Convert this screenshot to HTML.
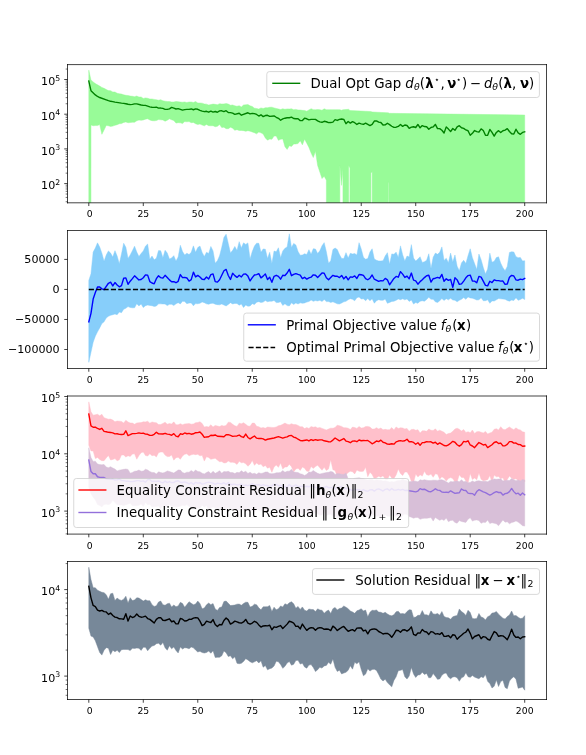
<!DOCTYPE html>
<html><head><meta charset="utf-8"><title>figure</title>
<style>html,body{margin:0;padding:0;background:#fff;}svg{display:block;}</style>
</head><body>
<svg  width="586" height="755" viewBox="0 0 633.513514 816.216216" version="1.1">
 
 <defs>
  <style type="text/css">*{stroke-linejoin: round; stroke-linecap: butt}</style>
 </defs>
 <g id="figure_1">
  <g id="patch_1">
   <path d="M 0 816.216216 
L 633.513514 816.216216 
L 633.513514 0 
L 0 0 
z
" style="fill: #ffffff"/>
  </g>
  <g id="axes_1">
   <g id="patch_2">
    <path d="M 72.972973 219.243243 
L 590.810811 219.243243 
L 590.810811 69.837838 
L 72.972973 69.837838 
z
" style="fill: #ffffff"/>
   </g>
   <g id="FillBetweenPolyCollection_1">
    
    <g clip-path="url(#pb293c02546)">
     <path d="M 96.000502 -740.323684 L 96.000502 -355.134063 L 98.309617 -355.134063 L 98.356742 -681.127227 L 100.712981 -680.301265 L 103.069221 -680.484827 L 105.42546 -680.4465 L 107.7817 -681.538706 L 110.13794 -671.021499 L 112.494179 -675.7287 L 114.850419 -680.640894 L 117.206658 -680.227915 L 119.562898 -679.556354 L 121.919137 -679.874234 L 124.275377 -680.760191 L 126.631617 -681.403832 L 128.987856 -682.419266 L 131.344096 -682.624063 L 133.700335 -683.852256 L 136.056575 -684.42058 L 138.412814 -683.480896 L 140.769054 -683.741295 L 143.125294 -684.009313 L 145.481533 -684.037849 L 147.837773 -685.623894 L 150.194012 -686.376995 L 152.550252 -686.159158 L 154.906491 -686.549961 L 157.262731 -687.382656 L 159.61897 -687.813809 L 161.97521 -686.505007 L 164.33145 -685.796497 L 166.687689 -685.6309 L 169.043929 -685.86842 L 171.400168 -686.956439 L 173.756408 -686.658346 L 176.112647 -686.48464 L 178.468887 -685.172505 L 180.825127 -686.27037 L 183.181366 -687.713203 L 185.537606 -686.77054 L 187.893845 -685.861228 L 190.250085 -683.162949 L 192.606324 -683.60647 L 194.962564 -683.41637 L 197.318804 -682.603467 L 199.675043 -684.734739 L 202.031283 -684.533388 L 204.387522 -684.7461 L 206.743762 -683.565243 L 209.100001 -683.894851 L 211.456241 -682.44787 L 213.81248 -681.535748 L 216.16872 -682.109746 L 218.52496 -681.045884 L 220.881199 -680.15433 L 223.237439 -681.748349 L 225.593678 -680.33347 L 227.949918 -680.209545 L 230.306157 -680.38511 L 232.662397 -679.251599 L 235.018637 -679.644355 L 237.374876 -681.554568 L 239.731116 -678.325645 L 242.087355 -678.777313 L 244.443595 -677.144857 L 246.799834 -677.067821 L 249.156074 -678.753699 L 251.512314 -677.511463 L 253.868553 -675.38487 L 256.224793 -676.066728 L 258.581032 -675.119 L 260.937272 -675.153661 L 263.293511 -674.987644 L 265.649751 -674.23428 L 268.00599 -674.907439 L 270.36223 -674.457862 L 272.71847 -673.547555 L 275.074709 -672.743189 L 277.430949 -671.524384 L 279.787188 -673.458671 L 282.143428 -672.634486 L 284.499667 -671.307764 L 286.855907 -667.116247 L 289.212147 -664.66867 L 291.568386 -665.89143 L 293.924626 -665.686336 L 296.280865 -669.148366 L 298.637105 -669.152322 L 300.993344 -664.522375 L 303.349584 -665.674108 L 305.705823 -666.048041 L 308.062063 -657.615785 L 310.418303 -654.665989 L 312.774542 -658.689203 L 315.130782 -657.929664 L 317.487021 -660.529994 L 319.843261 -660.598643 L 322.1995 -660.987717 L 324.55574 -664.181369 L 326.91198 -659.609136 L 329.268219 -665.739136 L 331.624459 -661.425457 L 333.980698 -656.866742 L 336.336938 -650.799603 L 338.693177 -645.89138 L 341.049417 -652.633215 L 343.405657 -637.235258 L 345.761896 -630.306275 L 348.118136 -623.130967 L 350.474375 -625.624029 L 352.830615 -621.480606 L 352.948427 -355.134063 L 367.321488 -355.134063 L 367.4393 -637.236317 L 369.20648 -615.853567 L 370.738035 -633.484958 L 370.855847 -355.134063 L 376.864258 -355.134063 L 376.98207 -637.236317 L 378.278002 -634.610366 L 378.395814 -355.134063 L 400.897902 -355.134063 L 401.015714 -628.983326 L 402.311646 -630.859006 L 402.429458 -355.134063 L 419.86563 -355.134063 L 419.983442 -619.604926 L 420.572502 -617.729247 L 420.690314 -355.134063 L 567.248415 -355.134063 L 567.248415 -691.874041 L 567.248415 -691.874041 L 420.690314 -693.692745 L 420.572502 -693.768916 L 419.983442 -694.149771 L 419.86563 -694.225942 L 402.429458 -695.181028 L 402.311646 -695.105728 L 401.015714 -695.609026 L 400.897902 -695.654781 L 378.395814 -696.740231 L 378.278002 -696.840742 L 376.98207 -697.946363 L 376.864258 -698.046874 L 370.855847 -697.564447 L 370.738035 -697.517167 L 369.20648 -696.991247 L 367.4393 -697.612984 L 367.321488 -697.654433 L 352.948427 -697.627121 L 352.830615 -697.640097 L 350.474375 -698.567446 L 348.118136 -696.998356 L 345.761896 -697.698182 L 343.405657 -697.796597 L 341.049417 -697.495336 L 338.693177 -697.698698 L 336.336938 -698.753681 L 333.980698 -697.378044 L 331.624459 -696.027225 L 329.268219 -696.793096 L 326.91198 -696.906053 L 324.55574 -697.238322 L 322.1995 -697.329595 L 319.843261 -697.967245 L 317.487021 -697.603594 L 315.130782 -698.515244 L 312.774542 -698.391539 L 310.418303 -698.446439 L 308.062063 -697.999362 L 305.705823 -698.616427 L 303.349584 -697.770256 L 300.993344 -698.449362 L 298.637105 -698.950595 L 296.280865 -699.584165 L 293.924626 -700.367183 L 291.568386 -700.224671 L 289.212147 -699.718267 L 286.855907 -699.824369 L 284.499667 -698.895643 L 282.143428 -699.58762 L 279.787188 -698.244007 L 277.430949 -698.87502 L 275.074709 -699.31793 L 272.71847 -701.140674 L 270.36223 -701.767975 L 268.00599 -703.255024 L 265.649751 -702.848603 L 263.293511 -702.692655 L 260.937272 -700.613056 L 258.581032 -701.973196 L 256.224793 -701.320374 L 253.868553 -701.782202 L 251.512314 -702.728103 L 249.156074 -702.476041 L 246.799834 -703.67509 L 244.443595 -704.2671 L 242.087355 -703.891631 L 239.731116 -703.810401 L 237.374876 -704.151755 L 235.018637 -702.9821 L 232.662397 -703.410803 L 230.306157 -703.722332 L 227.949918 -703.158571 L 225.593678 -702.676494 L 223.237439 -703.632214 L 220.881199 -703.825956 L 218.52496 -704.701493 L 216.16872 -704.895437 L 213.81248 -704.869694 L 211.456241 -706.426444 L 209.100001 -705.433801 L 206.743762 -705.951709 L 204.387522 -705.934325 L 202.031283 -705.414917 L 199.675043 -706.002259 L 197.318804 -705.754995 L 194.962564 -705.950432 L 192.606324 -706.334495 L 190.250085 -706.523871 L 187.893845 -706.005541 L 185.537606 -705.944973 L 183.181366 -706.373845 L 180.825127 -706.493368 L 178.468887 -706.81641 L 176.112647 -707.299422 L 173.756408 -708.418086 L 171.400168 -707.891966 L 169.043929 -708.34218 L 166.687689 -708.778996 L 164.33145 -709.212511 L 161.97521 -709.185812 L 159.61897 -709.995406 L 157.262731 -710.384029 L 154.906491 -709.734511 L 152.550252 -711.418514 L 150.194012 -711.294717 L 147.837773 -712.332272 L 145.481533 -711.750887 L 143.125294 -712.107473 L 140.769054 -712.333629 L 138.412814 -712.956193 L 136.056575 -713.185849 L 133.700335 -713.687824 L 131.344096 -714.563258 L 128.987856 -714.874664 L 126.631617 -715.395627 L 124.275377 -716.770134 L 121.919137 -716.823359 L 119.562898 -718.148038 L 117.206658 -718.280092 L 114.850419 -719.457665 L 112.494179 -720.720739 L 110.13794 -721.709285 L 107.7817 -723.1593 L 105.42546 -724.471373 L 103.069221 -725.837994 L 100.712981 -727.701961 L 98.356742 -729.648861 L 98.309617 -729.862357 L 96.000502 -740.323684 z" transform="translate(0 816.216216)" style="fill: #98fb98; stroke: #98fb98; stroke-width: 0.5"/>
    </g>
   </g>
   <g id="matplotlib.axis_1">
    <g id="xtick_1">
     <g id="line2d_1">
      
      <g>
       <path d="M 0 0 L 0 3.5" transform="translate(96.000502 219.243243)" style="stroke: #000000; stroke-width: 0.8"/>
      </g>
     </g>
     <g id="text_1">
      <text style="font-size: 10px; font-family: 'DejaVu Sans', sans-serif; text-anchor: middle" x="96.920502" y="235.141681" transform="rotate(-0 96.920502 235.141681)">0</text>
     </g>
    </g>
    <g id="xtick_2">
     <g id="line2d_2">
      <g>
       <path d="M 0 0 L 0 3.5" transform="translate(154.906491 219.243243)" style="stroke: #000000; stroke-width: 0.8"/>
      </g>
     </g>
     <g id="text_2">
      <text style="font-size: 10px; font-family: 'DejaVu Sans', sans-serif; text-anchor: middle" x="154.906491" y="235.141681" transform="rotate(-0 154.906491 235.141681)">25</text>
     </g>
    </g>
    <g id="xtick_3">
     <g id="line2d_3">
      <g>
       <path d="M 0 0 L 0 3.5" transform="translate(213.81248 219.243243)" style="stroke: #000000; stroke-width: 0.8"/>
      </g>
     </g>
     <g id="text_3">
      <text style="font-size: 10px; font-family: 'DejaVu Sans', sans-serif; text-anchor: middle" x="213.81248" y="235.141681" transform="rotate(-0 213.81248 235.141681)">50</text>
     </g>
    </g>
    <g id="xtick_4">
     <g id="line2d_4">
      <g>
       <path d="M 0 0 L 0 3.5" transform="translate(272.71847 219.243243)" style="stroke: #000000; stroke-width: 0.8"/>
      </g>
     </g>
     <g id="text_4">
      <text style="font-size: 10px; font-family: 'DejaVu Sans', sans-serif; text-anchor: middle" x="272.71847" y="235.141681" transform="rotate(-0 272.71847 235.141681)">75</text>
     </g>
    </g>
    <g id="xtick_5">
     <g id="line2d_5">
      <g>
       <path d="M 0 0 L 0 3.5" transform="translate(331.624459 219.243243)" style="stroke: #000000; stroke-width: 0.8"/>
      </g>
     </g>
     <g id="text_5">
      <text style="font-size: 10px; font-family: 'DejaVu Sans', sans-serif; text-anchor: middle" x="331.624459" y="235.141681" transform="rotate(-0 331.624459 235.141681)">100</text>
     </g>
    </g>
    <g id="xtick_6">
     <g id="line2d_6">
      <g>
       <path d="M 0 0 L 0 3.5" transform="translate(390.530448 219.243243)" style="stroke: #000000; stroke-width: 0.8"/>
      </g>
     </g>
     <g id="text_6">
      <text style="font-size: 10px; font-family: 'DejaVu Sans', sans-serif; text-anchor: middle" x="390.530448" y="235.141681" transform="rotate(-0 390.530448 235.141681)">125</text>
     </g>
    </g>
    <g id="xtick_7">
     <g id="line2d_7">
      <g>
       <path d="M 0 0 L 0 3.5" transform="translate(449.436437 219.243243)" style="stroke: #000000; stroke-width: 0.8"/>
      </g>
     </g>
     <g id="text_7">
      <text style="font-size: 10px; font-family: 'DejaVu Sans', sans-serif; text-anchor: middle" x="449.436437" y="235.141681" transform="rotate(-0 449.436437 235.141681)">150</text>
     </g>
    </g>
    <g id="xtick_8">
     <g id="line2d_8">
      <g>
       <path d="M 0 0 L 0 3.5" transform="translate(508.342426 219.243243)" style="stroke: #000000; stroke-width: 0.8"/>
      </g>
     </g>
     <g id="text_8">
      <text style="font-size: 10px; font-family: 'DejaVu Sans', sans-serif; text-anchor: middle" x="508.342426" y="235.141681" transform="rotate(-0 508.342426 235.141681)">175</text>
     </g>
    </g>
    <g id="xtick_9">
     <g id="line2d_9">
      <g>
       <path d="M 0 0 L 0 3.5" transform="translate(567.248415 219.243243)" style="stroke: #000000; stroke-width: 0.8"/>
      </g>
     </g>
     <g id="text_9">
      <text style="font-size: 10px; font-family: 'DejaVu Sans', sans-serif; text-anchor: middle" x="567.248415" y="235.141681" transform="rotate(-0 567.248415 235.141681)">200</text>
     </g>
    </g>
   </g>
   <g id="matplotlib.axis_2">
    <g id="ytick_1">
     <g id="line2d_10">
      
      <g>
       <path d="M 0 0 L -3.5 0" transform="translate(72.972973 198.48697)" style="stroke: #000000; stroke-width: 0.8"/>
      </g>
     </g>
     <g id="text_10">
      <!-- $\mathdefault{10^{2}}$ -->
      <g transform="translate(44.452973 204.746032)">
       <text>
        <tspan x="0" y="-0.171875" style="font-size: 12px; font-family: 'DejaVu Sans', sans-serif">1</tspan>
        <tspan x="7.634766" y="-0.171875" style="font-size: 12px; font-family: 'DejaVu Sans', sans-serif">0</tspan>
        <tspan x="15.384375" y="-4.765625" style="font-size: 8.4px; font-family: 'DejaVu Sans', sans-serif">2</tspan>
       </text>
      </g>
     </g>
    </g>
    <g id="ytick_2">
     <g id="line2d_11">
      <g>
       <path d="M 0 0 L -3.5 0" transform="translate(72.972973 160.973372)" style="stroke: #000000; stroke-width: 0.8"/>
      </g>
     </g>
     <g id="text_11">
      <!-- $\mathdefault{10^{3}}$ -->
      <g transform="translate(44.452973 167.232434)">
       <text>
        <tspan x="0" y="-0.171875" style="font-size: 12px; font-family: 'DejaVu Sans', sans-serif">1</tspan>
        <tspan x="7.634766" y="-0.171875" style="font-size: 12px; font-family: 'DejaVu Sans', sans-serif">0</tspan>
        <tspan x="15.384375" y="-4.765625" style="font-size: 8.4px; font-family: 'DejaVu Sans', sans-serif">3</tspan>
       </text>
      </g>
     </g>
    </g>
    <g id="ytick_3">
     <g id="line2d_12">
      <g>
       <path d="M 0 0 L -3.5 0" transform="translate(72.972973 123.459774)" style="stroke: #000000; stroke-width: 0.8"/>
      </g>
     </g>
     <g id="text_12">
      <!-- $\mathdefault{10^{4}}$ -->
      <g transform="translate(44.452973 129.718837)">
       <text>
        <tspan x="0" y="-0.28125" style="font-size: 12px; font-family: 'DejaVu Sans', sans-serif">1</tspan>
        <tspan x="7.634766" y="-0.28125" style="font-size: 12px; font-family: 'DejaVu Sans', sans-serif">0</tspan>
        <tspan x="15.384375" y="-4.875" style="font-size: 8.4px; font-family: 'DejaVu Sans', sans-serif">4</tspan>
       </text>
      </g>
     </g>
    </g>
    <g id="ytick_4">
     <g id="line2d_13">
      <g>
       <path d="M 0 0 L -3.5 0" transform="translate(72.972973 85.946177)" style="stroke: #000000; stroke-width: 0.8"/>
      </g>
     </g>
     <g id="text_13">
      <!-- $\mathdefault{10^{5}}$ -->
      <g transform="translate(44.452973 92.205239)">
       <text>
        <tspan x="0" y="-0.28125" style="font-size: 12px; font-family: 'DejaVu Sans', sans-serif">1</tspan>
        <tspan x="7.634766" y="-0.28125" style="font-size: 12px; font-family: 'DejaVu Sans', sans-serif">0</tspan>
        <tspan x="15.384375" y="-4.875" style="font-size: 8.4px; font-family: 'DejaVu Sans', sans-serif">5</tspan>
       </text>
      </g>
     </g>
    </g>
    <g id="ytick_5">
     <g id="line2d_14">
      
      <g>
       <path d="M 0 0 L -2 0" transform="translate(72.972973 218.102033)" style="stroke: #000000; stroke-width: 0.6"/>
      </g>
     </g>
    </g>
    <g id="ytick_6">
     <g id="line2d_15">
      <g>
       <path d="M 0 0 L -2 0" transform="translate(72.972973 213.415131)" style="stroke: #000000; stroke-width: 0.6"/>
      </g>
     </g>
    </g>
    <g id="ytick_7">
     <g id="line2d_16">
      <g>
       <path d="M 0 0 L -2 0" transform="translate(72.972973 209.779688)" style="stroke: #000000; stroke-width: 0.6"/>
      </g>
     </g>
    </g>
    <g id="ytick_8">
     <g id="line2d_17">
      <g>
       <path d="M 0 0 L -2 0" transform="translate(72.972973 206.809314)" style="stroke: #000000; stroke-width: 0.6"/>
      </g>
     </g>
    </g>
    <g id="ytick_9">
     <g id="line2d_18">
      <g>
       <path d="M 0 0 L -2 0" transform="translate(72.972973 204.297899)" style="stroke: #000000; stroke-width: 0.6"/>
      </g>
     </g>
    </g>
    <g id="ytick_10">
     <g id="line2d_19">
      <g>
       <path d="M 0 0 L -2 0" transform="translate(72.972973 202.122413)" style="stroke: #000000; stroke-width: 0.6"/>
      </g>
     </g>
    </g>
    <g id="ytick_11">
     <g id="line2d_20">
      <g>
       <path d="M 0 0 L -2 0" transform="translate(72.972973 200.203498)" style="stroke: #000000; stroke-width: 0.6"/>
      </g>
     </g>
    </g>
    <g id="ytick_12">
     <g id="line2d_21">
      <g>
       <path d="M 0 0 L -2 0" transform="translate(72.972973 187.194252)" style="stroke: #000000; stroke-width: 0.6"/>
      </g>
     </g>
    </g>
    <g id="ytick_13">
     <g id="line2d_22">
      <g>
       <path d="M 0 0 L -2 0" transform="translate(72.972973 180.588435)" style="stroke: #000000; stroke-width: 0.6"/>
      </g>
     </g>
    </g>
    <g id="ytick_14">
     <g id="line2d_23">
      <g>
       <path d="M 0 0 L -2 0" transform="translate(72.972973 175.901533)" style="stroke: #000000; stroke-width: 0.6"/>
      </g>
     </g>
    </g>
    <g id="ytick_15">
     <g id="line2d_24">
      <g>
       <path d="M 0 0 L -2 0" transform="translate(72.972973 172.26609)" style="stroke: #000000; stroke-width: 0.6"/>
      </g>
     </g>
    </g>
    <g id="ytick_16">
     <g id="line2d_25">
      <g>
       <path d="M 0 0 L -2 0" transform="translate(72.972973 169.295717)" style="stroke: #000000; stroke-width: 0.6"/>
      </g>
     </g>
    </g>
    <g id="ytick_17">
     <g id="line2d_26">
      <g>
       <path d="M 0 0 L -2 0" transform="translate(72.972973 166.784302)" style="stroke: #000000; stroke-width: 0.6"/>
      </g>
     </g>
    </g>
    <g id="ytick_18">
     <g id="line2d_27">
      <g>
       <path d="M 0 0 L -2 0" transform="translate(72.972973 164.608815)" style="stroke: #000000; stroke-width: 0.6"/>
      </g>
     </g>
    </g>
    <g id="ytick_19">
     <g id="line2d_28">
      <g>
       <path d="M 0 0 L -2 0" transform="translate(72.972973 162.6899)" style="stroke: #000000; stroke-width: 0.6"/>
      </g>
     </g>
    </g>
    <g id="ytick_20">
     <g id="line2d_29">
      <g>
       <path d="M 0 0 L -2 0" transform="translate(72.972973 149.680654)" style="stroke: #000000; stroke-width: 0.6"/>
      </g>
     </g>
    </g>
    <g id="ytick_21">
     <g id="line2d_30">
      <g>
       <path d="M 0 0 L -2 0" transform="translate(72.972973 143.074837)" style="stroke: #000000; stroke-width: 0.6"/>
      </g>
     </g>
    </g>
    <g id="ytick_22">
     <g id="line2d_31">
      <g>
       <path d="M 0 0 L -2 0" transform="translate(72.972973 138.387936)" style="stroke: #000000; stroke-width: 0.6"/>
      </g>
     </g>
    </g>
    <g id="ytick_23">
     <g id="line2d_32">
      <g>
       <path d="M 0 0 L -2 0" transform="translate(72.972973 134.752492)" style="stroke: #000000; stroke-width: 0.6"/>
      </g>
     </g>
    </g>
    <g id="ytick_24">
     <g id="line2d_33">
      <g>
       <path d="M 0 0 L -2 0" transform="translate(72.972973 131.782119)" style="stroke: #000000; stroke-width: 0.6"/>
      </g>
     </g>
    </g>
    <g id="ytick_25">
     <g id="line2d_34">
      <g>
       <path d="M 0 0 L -2 0" transform="translate(72.972973 129.270704)" style="stroke: #000000; stroke-width: 0.6"/>
      </g>
     </g>
    </g>
    <g id="ytick_26">
     <g id="line2d_35">
      <g>
       <path d="M 0 0 L -2 0" transform="translate(72.972973 127.095218)" style="stroke: #000000; stroke-width: 0.6"/>
      </g>
     </g>
    </g>
    <g id="ytick_27">
     <g id="line2d_36">
      <g>
       <path d="M 0 0 L -2 0" transform="translate(72.972973 125.176302)" style="stroke: #000000; stroke-width: 0.6"/>
      </g>
     </g>
    </g>
    <g id="ytick_28">
     <g id="line2d_37">
      <g>
       <path d="M 0 0 L -2 0" transform="translate(72.972973 112.167056)" style="stroke: #000000; stroke-width: 0.6"/>
      </g>
     </g>
    </g>
    <g id="ytick_29">
     <g id="line2d_38">
      <g>
       <path d="M 0 0 L -2 0" transform="translate(72.972973 105.56124)" style="stroke: #000000; stroke-width: 0.6"/>
      </g>
     </g>
    </g>
    <g id="ytick_30">
     <g id="line2d_39">
      <g>
       <path d="M 0 0 L -2 0" transform="translate(72.972973 100.874338)" style="stroke: #000000; stroke-width: 0.6"/>
      </g>
     </g>
    </g>
    <g id="ytick_31">
     <g id="line2d_40">
      <g>
       <path d="M 0 0 L -2 0" transform="translate(72.972973 97.238895)" style="stroke: #000000; stroke-width: 0.6"/>
      </g>
     </g>
    </g>
    <g id="ytick_32">
     <g id="line2d_41">
      <g>
       <path d="M 0 0 L -2 0" transform="translate(72.972973 94.268521)" style="stroke: #000000; stroke-width: 0.6"/>
      </g>
     </g>
    </g>
    <g id="ytick_33">
     <g id="line2d_42">
      <g>
       <path d="M 0 0 L -2 0" transform="translate(72.972973 91.757106)" style="stroke: #000000; stroke-width: 0.6"/>
      </g>
     </g>
    </g>
    <g id="ytick_34">
     <g id="line2d_43">
      <g>
       <path d="M 0 0 L -2 0" transform="translate(72.972973 89.58162)" style="stroke: #000000; stroke-width: 0.6"/>
      </g>
     </g>
    </g>
    <g id="ytick_35">
     <g id="line2d_44">
      <g>
       <path d="M 0 0 L -2 0" transform="translate(72.972973 87.662705)" style="stroke: #000000; stroke-width: 0.6"/>
      </g>
     </g>
    </g>
    <g id="ytick_36">
     <g id="line2d_45">
      <g>
       <path d="M 0 0 L -2 0" transform="translate(72.972973 74.653459)" style="stroke: #000000; stroke-width: 0.6"/>
      </g>
     </g>
    </g>
   </g>
   <g id="line2d_46">
    <path d="M 96.000502 87.671802 
L 98.356742 98.076646 
L 103.069221 102.579153 
L 105.42546 104.312235 
L 107.7817 105.42358 
L 114.850419 107.928674 
L 117.206658 108.81559 
L 119.562898 109.514773 
L 121.919137 109.81545 
L 124.275377 110.405218 
L 131.344096 111.463148 
L 133.700335 111.695934 
L 136.056575 112.122926 
L 138.412814 112.680958 
L 140.769054 113.109686 
L 143.125294 112.819715 
L 145.481533 112.335747 
L 147.837773 112.291799 
L 152.550252 113.547405 
L 154.906491 113.86553 
L 157.262731 113.978858 
L 161.97521 115.488253 
L 164.33145 115.947544 
L 166.687689 116.091961 
L 169.043929 115.869262 
L 171.400168 116.871824 
L 173.756408 116.822153 
L 176.112647 117.227142 
L 178.468887 118.200514 
L 180.825127 118.221968 
L 183.181366 117.659109 
L 185.537606 116.128584 
L 187.893845 116.909554 
L 190.250085 117.857198 
L 192.606324 117.481083 
L 197.318804 119.06478 
L 199.675043 118.457935 
L 202.031283 118.279441 
L 204.387522 118.269061 
L 206.743762 117.787105 
L 209.100001 118.626073 
L 211.456241 117.72588 
L 213.81248 118.169474 
L 216.16872 119.23407 
L 218.52496 120.112227 
L 220.881199 120.746809 
L 223.237439 120.327262 
L 225.593678 121.333025 
L 227.949918 120.144306 
L 230.306157 121.251637 
L 232.662397 120.578242 
L 235.018637 121.339449 
L 237.374876 119.878845 
L 239.731116 119.795759 
L 242.087355 120.693614 
L 244.443595 119.686428 
L 246.799834 121.607471 
L 249.156074 121.733126 
L 251.512314 122.319795 
L 253.868553 123.56835 
L 258.581032 122.401779 
L 260.937272 124.51517 
L 268.00599 121.917561 
L 270.36223 123.164567 
L 272.71847 122.562539 
L 275.074709 122.891007 
L 277.430949 123.740316 
L 279.787188 125.450486 
L 282.143428 124.12453 
L 284.499667 126.057699 
L 286.855907 124.92874 
L 289.212147 124.657123 
L 291.568386 125.82088 
L 296.280865 125.364709 
L 298.637105 126.762537 
L 300.993344 127.931883 
L 303.349584 130.011835 
L 305.705823 128.491576 
L 308.062063 127.787591 
L 310.418303 127.320761 
L 312.774542 127.269958 
L 315.130782 126.67354 
L 317.487021 128.121455 
L 319.843261 128.407514 
L 322.1995 128.413781 
L 324.55574 130.378635 
L 326.91198 130.359386 
L 329.268219 127.769016 
L 331.624459 128.411237 
L 333.980698 129.566614 
L 336.336938 129.088767 
L 341.049417 129.083778 
L 343.405657 130.664248 
L 345.761896 131.8229 
L 348.118136 132.211254 
L 350.474375 131.11369 
L 352.830615 131.62125 
L 355.186854 132.613838 
L 357.543094 132.496531 
L 359.899333 132.006088 
L 362.255573 129.349034 
L 364.611813 130.215364 
L 366.968052 129.037247 
L 369.324292 128.662274 
L 371.680531 129.028901 
L 374.036771 133.747849 
L 376.39301 131.332735 
L 378.74925 133.092497 
L 381.10549 131.574864 
L 383.461729 132.694186 
L 385.817969 134.533622 
L 388.174208 133.176948 
L 390.530448 133.874051 
L 392.886687 134.345922 
L 395.242927 133.128554 
L 399.955406 135.738167 
L 402.311646 134.562081 
L 404.667885 130.834459 
L 407.024125 130.735262 
L 409.380364 132.082221 
L 411.736604 132.438852 
L 414.092843 135.165529 
L 416.449083 134.964345 
L 418.805323 133.266384 
L 421.161562 134.689318 
L 423.517802 136.495031 
L 425.874041 137.727953 
L 428.230281 137.521223 
L 430.58652 136.689699 
L 432.94276 134.617237 
L 435.299 136.647069 
L 437.655239 135.131765 
L 440.011479 135.6419 
L 442.367718 138.699171 
L 444.723958 137.431597 
L 447.080197 137.042965 
L 449.436437 137.826584 
L 451.792676 134.580002 
L 454.148916 138.160459 
L 456.505156 135.799268 
L 458.861395 136.80502 
L 461.217635 136.979974 
L 463.573874 139.770197 
L 465.930114 137.807356 
L 468.286353 137.224373 
L 470.642593 134.486446 
L 472.998833 138.993753 
L 475.355072 138.998049 
L 477.711312 140.755556 
L 480.067551 143.731141 
L 482.423791 137.154606 
L 484.78003 139.55875 
L 487.13627 142.246514 
L 489.49251 138.922815 
L 491.848749 140.862275 
L 494.204989 137.083791 
L 496.561228 135.838269 
L 498.917468 138.064595 
L 501.273707 138.728842 
L 503.629947 140.489967 
L 505.986186 141.349364 
L 508.342426 146.225155 
L 510.698666 144.129714 
L 513.054905 141.137603 
L 515.411145 142.236076 
L 517.767384 142.836228 
L 520.123624 139.330833 
L 522.479863 141.093901 
L 524.836103 146.257417 
L 527.192343 146.294549 
L 529.548582 139.93284 
L 531.904822 143.14732 
L 534.261061 147.161922 
L 536.617301 143.156536 
L 538.97354 141.248196 
L 541.32978 143.342167 
L 543.68602 141.313385 
L 546.042259 140.616483 
L 548.398499 139.065675 
L 550.754738 142.185873 
L 553.110978 144.594339 
L 555.467217 144.95547 
L 557.823457 139.716709 
L 560.179696 143.684894 
L 562.535936 145.195351 
L 564.892176 143.157035 
L 567.248415 142.538773 
L 567.248415 142.538773 
" clip-path="url(#pb293c02546)" style="fill: none; stroke: #008000; stroke-width: 1.5; stroke-linecap: square"/>
   </g>
   <g id="patch_3">
    <path d="M 72.972973 219.243243 
L 72.972973 69.837838 
" style="fill: none; stroke: #000000; stroke-width: 0.8; stroke-linejoin: miter; stroke-linecap: square"/>
   </g>
   <g id="patch_4">
    <path d="M 590.810811 219.243243 
L 590.810811 69.837838 
" style="fill: none; stroke: #000000; stroke-width: 0.8; stroke-linejoin: miter; stroke-linecap: square"/>
   </g>
   <g id="patch_5">
    <path d="M 72.972973 219.243243 
L 590.810811 219.243243 
" style="fill: none; stroke: #000000; stroke-width: 0.8; stroke-linejoin: miter; stroke-linecap: square"/>
   </g>
   <g id="patch_6">
    <path d="M 72.972973 69.837838 
L 590.810811 69.837838 
" style="fill: none; stroke: #000000; stroke-width: 0.8; stroke-linejoin: miter; stroke-linecap: square"/>
   </g>
  </g>
  <g id="axes_2">
   <g id="patch_7">
    <path d="M 72.972973 398.378378 
L 590.810811 398.378378 
L 590.810811 249.189189 
L 72.972973 249.189189 
z
" style="fill: #ffffff"/>
   </g>
   <g id="FillBetweenPolyCollection_2">
    
    <g clip-path="url(#p424895be4b)">
     <path d="M 96.000502 -513.054687 L 96.000502 -424.548829 L 98.356742 -435.282222 L 100.712981 -446.138811 L 103.069221 -452.807476 L 105.42546 -457.485445 L 107.7817 -461.741324 L 110.13794 -466.419465 L 112.494179 -468.281738 L 114.850419 -472.491962 L 117.206658 -474.258897 L 119.562898 -475.343632 L 121.919137 -475.998523 L 124.275377 -476.704617 L 126.631617 -476.06865 L 128.987856 -478.936259 L 131.344096 -478.236689 L 133.700335 -481.805813 L 136.056575 -482.99367 L 138.412814 -484.731915 L 140.769054 -483.805038 L 143.125294 -483.449378 L 145.481533 -483.493953 L 147.837773 -487.881501 L 150.194012 -485.537227 L 152.550252 -487.585972 L 154.906491 -483.682277 L 157.262731 -485.713497 L 159.61897 -486.429122 L 161.97521 -486.080435 L 164.33145 -485.723188 L 166.687689 -484.960367 L 169.043929 -485.309109 L 171.400168 -487.724204 L 173.756408 -487.715751 L 176.112647 -487.659949 L 178.468887 -487.468257 L 180.825127 -485.814617 L 183.181366 -487.163412 L 185.537606 -487.210156 L 187.893845 -486.046695 L 190.250085 -487.729997 L 192.606324 -489.0286 L 194.962564 -487.61796 L 197.318804 -490.460356 L 199.675043 -490.183754 L 202.031283 -487.891181 L 204.387522 -488.566592 L 206.743762 -488.682699 L 209.100001 -485.580999 L 211.456241 -487.984719 L 213.81248 -487.829799 L 216.16872 -488.348304 L 218.52496 -489.839882 L 220.881199 -489.035647 L 223.237439 -487.71823 L 225.593678 -487.277689 L 227.949918 -488.224966 L 230.306157 -488.438037 L 232.662397 -487.383505 L 235.018637 -486.88864 L 237.374876 -486.670809 L 239.731116 -487.620154 L 242.087355 -486.544544 L 244.443595 -485.480227 L 246.799834 -487.153629 L 249.156074 -489.000844 L 251.512314 -487.654773 L 253.868553 -488.228062 L 256.224793 -488.120872 L 258.581032 -486.342581 L 260.937272 -487.493288 L 263.293511 -483.716314 L 265.649751 -486.497107 L 268.00599 -485.202367 L 270.36223 -485.422899 L 272.71847 -487.942377 L 275.074709 -487.021297 L 277.430949 -489.558494 L 279.787188 -490.118366 L 282.143428 -489.133631 L 284.499667 -489.645524 L 286.855907 -491.278148 L 289.212147 -490.030471 L 291.568386 -490.565618 L 293.924626 -490.552549 L 296.280865 -491.403657 L 298.637105 -489.064485 L 300.993344 -489.258533 L 303.349584 -489.997613 L 305.705823 -486.037892 L 308.062063 -487.854052 L 310.418303 -485.843844 L 312.774542 -485.499412 L 315.130782 -488.785634 L 317.487021 -487.06164 L 319.843261 -488.771846 L 322.1995 -487.562817 L 324.55574 -488.795418 L 326.91198 -488.319608 L 329.268219 -488.678371 L 331.624459 -489.609466 L 333.980698 -490.278216 L 336.336938 -491.899877 L 338.693177 -490.450256 L 341.049417 -491.247467 L 343.405657 -490.862774 L 345.761896 -491.489653 L 348.118136 -490.306964 L 350.474375 -492.336686 L 352.830615 -490.177461 L 355.186854 -490.136442 L 357.543094 -489.298586 L 359.899333 -489.877422 L 362.255573 -488.837652 L 364.611813 -487.753381 L 366.968052 -487.539187 L 369.324292 -488.586473 L 371.680531 -489.872069 L 374.036771 -490.512192 L 376.39301 -492.153443 L 378.74925 -493.285247 L 381.10549 -492.63706 L 383.461729 -491.080099 L 385.817969 -494.400512 L 388.174208 -495.121871 L 390.530448 -493.002915 L 392.886687 -493.284049 L 395.242927 -491.208122 L 397.599167 -493.383707 L 399.955406 -491.05422 L 402.311646 -493.229019 L 404.667885 -488.445337 L 407.024125 -491.203332 L 409.380364 -492.199385 L 411.736604 -491.560202 L 414.092843 -491.586855 L 416.449083 -493.014018 L 418.805323 -488.278254 L 421.161562 -489.242878 L 423.517802 -490.323955 L 425.874041 -490.604565 L 428.230281 -491.575962 L 430.58652 -492.957001 L 432.94276 -492.202258 L 435.299 -493.137302 L 437.655239 -492.058014 L 440.011479 -493.094881 L 442.367718 -490.362955 L 444.723958 -491.9593 L 447.080197 -487.490491 L 449.436437 -489.165699 L 451.792676 -488.269166 L 454.148916 -490.662909 L 456.505156 -491.036165 L 458.861395 -490.59568 L 461.217635 -492.413063 L 463.573874 -494.809854 L 465.930114 -492.735581 L 468.286353 -492.631243 L 470.642593 -489.906645 L 472.998833 -489.201694 L 475.355072 -490.966935 L 477.711312 -493.440204 L 480.067551 -491.451779 L 482.423791 -493.33686 L 484.78003 -492.036518 L 487.13627 -493.879976 L 489.49251 -491.922955 L 491.848749 -491.646523 L 494.204989 -489.932095 L 496.561228 -491.547598 L 498.917468 -492.721179 L 501.273707 -494.470233 L 503.629947 -492.571836 L 505.986186 -495.259523 L 508.342426 -494.094094 L 510.698666 -493.852257 L 513.054905 -492.9137 L 515.411145 -491.88401 L 517.767384 -492.063056 L 520.123624 -494.380977 L 522.479863 -491.046714 L 524.836103 -491.192212 L 527.192343 -492.102872 L 529.548582 -488.376665 L 531.904822 -490.931003 L 534.261061 -490.704481 L 536.617301 -492.089605 L 538.97354 -493.45679 L 541.32978 -493.171447 L 543.68602 -492.902081 L 546.042259 -492.623411 L 548.398499 -491.359919 L 550.754738 -490.647419 L 553.110978 -491.793459 L 555.467217 -491.295323 L 557.823457 -494.266607 L 560.179696 -491.492707 L 562.535936 -492.517295 L 564.892176 -493.700149 L 567.248415 -492.448829 L 567.248415 -534.359995 L 567.248415 -534.359995 L 564.892176 -534.102764 L 562.535936 -537.931478 L 560.179696 -537.690262 L 557.823457 -538.761167 L 555.467217 -543.801243 L 553.110978 -544.003025 L 550.754738 -543.322005 L 548.398499 -528.209591 L 546.042259 -523.555932 L 543.68602 -526.891602 L 541.32978 -531.728171 L 538.97354 -538.540164 L 536.617301 -537.741574 L 534.261061 -533.684785 L 531.904822 -532.685009 L 529.548582 -542.54862 L 527.192343 -525.378967 L 524.836103 -520.134431 L 522.479863 -526.961797 L 520.123624 -535.394246 L 517.767384 -541.523522 L 515.411145 -524.860001 L 513.054905 -531.306752 L 510.698666 -537.640878 L 508.342426 -547.251193 L 505.986186 -539.731824 L 503.629947 -531.370129 L 501.273707 -534.820499 L 498.917468 -531.940497 L 496.561228 -523.517283 L 494.204989 -528.393669 L 491.848749 -540.563363 L 489.49251 -532.873479 L 487.13627 -542.602363 L 484.78003 -532.294193 L 482.423791 -536.989367 L 480.067551 -534.652222 L 477.711312 -549.282139 L 475.355072 -543.414153 L 472.998833 -541.275426 L 470.642593 -542.572429 L 468.286353 -538.073046 L 465.930114 -525.856176 L 463.573874 -541.864316 L 461.217635 -534.808455 L 458.861395 -533.257117 L 456.505156 -532.518606 L 454.148916 -538.616033 L 451.792676 -536.152995 L 449.436437 -533.977748 L 447.080197 -537.169142 L 444.723958 -551.729813 L 442.367718 -538.509493 L 440.011479 -539.370347 L 437.655239 -534.100885 L 435.299 -540.822454 L 432.94276 -550.398328 L 430.58652 -537.857146 L 428.230281 -543.641845 L 425.874041 -541.25811 L 423.517802 -541.721848 L 421.161562 -530.426817 L 418.805323 -543.04011 L 416.449083 -539.504127 L 414.092843 -534.347144 L 411.736604 -534.085582 L 409.380364 -534.125463 L 407.024125 -534.857199 L 404.667885 -536.244277 L 402.311646 -547.217377 L 399.955406 -543.668835 L 397.599167 -536.673016 L 395.242927 -536.010656 L 392.886687 -538.121578 L 390.530448 -547.011576 L 388.174208 -553.81884 L 385.817969 -540.520247 L 383.461729 -542.09733 L 381.10549 -541.601732 L 378.74925 -542.403178 L 376.39301 -537.224177 L 374.036771 -543.060209 L 371.680531 -536.69865 L 369.324292 -536.823942 L 366.968052 -540.996483 L 364.611813 -546.468089 L 362.255573 -548.056076 L 359.899333 -546.401176 L 357.543094 -534.316891 L 355.186854 -531.600408 L 352.830615 -543.938574 L 350.474375 -553.914091 L 348.118136 -550.458859 L 345.761896 -545.122656 L 343.405657 -542.142277 L 341.049417 -546.905659 L 338.693177 -547.373154 L 336.336938 -541.423705 L 333.980698 -546.267006 L 331.624459 -541.102041 L 329.268219 -541.868976 L 326.91198 -540.533509 L 324.55574 -540.303138 L 322.1995 -544.403182 L 319.843261 -551.348361 L 317.487021 -553.065618 L 315.130782 -548.55949 L 312.774542 -563.443856 L 310.418303 -549.156246 L 308.062063 -547.777012 L 305.705823 -544.843027 L 303.349584 -537.666055 L 300.993344 -548.361058 L 298.637105 -543.941734 L 296.280865 -544.845934 L 293.924626 -531.328208 L 291.568386 -543.478035 L 289.212147 -536.888362 L 286.855907 -546.717706 L 284.499667 -547.099743 L 282.143428 -543.639773 L 279.787188 -553.108809 L 277.430949 -553.291993 L 275.074709 -550.137772 L 272.71847 -544.290498 L 270.36223 -536.296823 L 268.00599 -553.6239 L 265.649751 -552.020947 L 263.293511 -553.664058 L 260.937272 -548.198598 L 258.581032 -554.98226 L 256.224793 -545.506893 L 253.868553 -549.784286 L 251.512314 -545.554384 L 249.156074 -542.820312 L 246.799834 -553.053926 L 244.443595 -563.017227 L 242.087355 -559.470397 L 239.731116 -548.839439 L 237.374876 -539.614727 L 235.018637 -534.368942 L 232.662397 -531.685254 L 230.306157 -544.973317 L 227.949918 -549.724301 L 225.593678 -542.192914 L 223.237439 -543.45505 L 220.881199 -538.845086 L 218.52496 -543.363146 L 216.16872 -550.198799 L 213.81248 -548.556588 L 211.456241 -543.430857 L 209.100001 -550.416462 L 206.743762 -543.418315 L 204.387522 -540.966403 L 202.031283 -542.495632 L 199.675043 -540.602975 L 197.318804 -544.233582 L 194.962564 -551.035092 L 192.606324 -538.412882 L 190.250085 -533.960382 L 187.893845 -539.848059 L 185.537606 -537.349647 L 183.181366 -536.22941 L 180.825127 -542.586947 L 178.468887 -545.594256 L 176.112647 -537.504674 L 173.756408 -545.057909 L 171.400168 -545.290905 L 169.043929 -537.09918 L 166.687689 -535.343478 L 164.33145 -539.404136 L 161.97521 -536.057436 L 159.61897 -552.365135 L 157.262731 -550.097536 L 154.906491 -544.967091 L 152.550252 -542.103142 L 150.194012 -538.988473 L 147.837773 -543.703993 L 145.481533 -550.075992 L 143.125294 -545.226218 L 140.769054 -540.67164 L 138.412814 -536.828874 L 136.056575 -548.912422 L 133.700335 -553.232471 L 131.344096 -541.590584 L 128.987856 -531.17183 L 126.631617 -539.473474 L 124.275377 -545.221529 L 121.919137 -538.330184 L 119.562898 -542.599074 L 117.206658 -544.94319 L 114.850419 -540.514783 L 112.494179 -533.671893 L 110.13794 -542.523579 L 107.7817 -549.162027 L 105.42546 -553.693321 L 103.069221 -548.088068 L 100.712981 -543.655007 L 98.356742 -520.193505 L 96.000502 -513.054687 z" transform="translate(0 816.216216)" style="fill: #87cefa; stroke: #87cefa; stroke-width: 0.5"/>
    </g>
   </g>
   <g id="matplotlib.axis_3">
    <g id="xtick_10">
     <g id="line2d_47">
      <g>
       <path d="M 0 0 L 0 3.5" transform="translate(96.000502 398.378378)" style="stroke: #000000; stroke-width: 0.8"/>
      </g>
     </g>
     <g id="text_14">
      <text style="font-size: 10px; font-family: 'DejaVu Sans', sans-serif; text-anchor: middle" x="96.920502" y="414.276816" transform="rotate(-0 96.920502 414.276816)">0</text>
     </g>
    </g>
    <g id="xtick_11">
     <g id="line2d_48">
      <g>
       <path d="M 0 0 L 0 3.5" transform="translate(154.906491 398.378378)" style="stroke: #000000; stroke-width: 0.8"/>
      </g>
     </g>
     <g id="text_15">
      <text style="font-size: 10px; font-family: 'DejaVu Sans', sans-serif; text-anchor: middle" x="154.906491" y="414.276816" transform="rotate(-0 154.906491 414.276816)">25</text>
     </g>
    </g>
    <g id="xtick_12">
     <g id="line2d_49">
      <g>
       <path d="M 0 0 L 0 3.5" transform="translate(213.81248 398.378378)" style="stroke: #000000; stroke-width: 0.8"/>
      </g>
     </g>
     <g id="text_16">
      <text style="font-size: 10px; font-family: 'DejaVu Sans', sans-serif; text-anchor: middle" x="213.81248" y="414.276816" transform="rotate(-0 213.81248 414.276816)">50</text>
     </g>
    </g>
    <g id="xtick_13">
     <g id="line2d_50">
      <g>
       <path d="M 0 0 L 0 3.5" transform="translate(272.71847 398.378378)" style="stroke: #000000; stroke-width: 0.8"/>
      </g>
     </g>
     <g id="text_17">
      <text style="font-size: 10px; font-family: 'DejaVu Sans', sans-serif; text-anchor: middle" x="272.71847" y="414.276816" transform="rotate(-0 272.71847 414.276816)">75</text>
     </g>
    </g>
    <g id="xtick_14">
     <g id="line2d_51">
      <g>
       <path d="M 0 0 L 0 3.5" transform="translate(331.624459 398.378378)" style="stroke: #000000; stroke-width: 0.8"/>
      </g>
     </g>
     <g id="text_18">
      <text style="font-size: 10px; font-family: 'DejaVu Sans', sans-serif; text-anchor: middle" x="331.624459" y="414.276816" transform="rotate(-0 331.624459 414.276816)">100</text>
     </g>
    </g>
    <g id="xtick_15">
     <g id="line2d_52">
      <g>
       <path d="M 0 0 L 0 3.5" transform="translate(390.530448 398.378378)" style="stroke: #000000; stroke-width: 0.8"/>
      </g>
     </g>
     <g id="text_19">
      <text style="font-size: 10px; font-family: 'DejaVu Sans', sans-serif; text-anchor: middle" x="390.530448" y="414.276816" transform="rotate(-0 390.530448 414.276816)">125</text>
     </g>
    </g>
    <g id="xtick_16">
     <g id="line2d_53">
      <g>
       <path d="M 0 0 L 0 3.5" transform="translate(449.436437 398.378378)" style="stroke: #000000; stroke-width: 0.8"/>
      </g>
     </g>
     <g id="text_20">
      <text style="font-size: 10px; font-family: 'DejaVu Sans', sans-serif; text-anchor: middle" x="449.436437" y="414.276816" transform="rotate(-0 449.436437 414.276816)">150</text>
     </g>
    </g>
    <g id="xtick_17">
     <g id="line2d_54">
      <g>
       <path d="M 0 0 L 0 3.5" transform="translate(508.342426 398.378378)" style="stroke: #000000; stroke-width: 0.8"/>
      </g>
     </g>
     <g id="text_21">
      <text style="font-size: 10px; font-family: 'DejaVu Sans', sans-serif; text-anchor: middle" x="508.342426" y="414.276816" transform="rotate(-0 508.342426 414.276816)">175</text>
     </g>
    </g>
    <g id="xtick_18">
     <g id="line2d_55">
      <g>
       <path d="M 0 0 L 0 3.5" transform="translate(567.248415 398.378378)" style="stroke: #000000; stroke-width: 0.8"/>
      </g>
     </g>
     <g id="text_22">
      <text style="font-size: 10px; font-family: 'DejaVu Sans', sans-serif; text-anchor: middle" x="567.248415" y="414.276816" transform="rotate(-0 567.248415 414.276816)">200</text>
     </g>
    </g>
   </g>
   <g id="matplotlib.axis_4">
    <g id="ytick_37">
     <g id="line2d_56">
      <g>
       <path d="M 0 0 L -3.5 0" transform="translate(72.972973 377.836318)" style="stroke: #000000; stroke-width: 0.8"/>
      </g>
     </g>
     <g id="text_23">
      <text style="font-size: 12px; font-family: 'DejaVu Sans', sans-serif; text-anchor: end" x="64.472973" y="381.49538" transform="rotate(-0 64.472973 381.49538)">−100000</text>
     </g>
    </g>
    <g id="ytick_38">
     <g id="line2d_57">
      <g>
       <path d="M 0 0 L -3.5 0" transform="translate(72.972973 345.369019)" style="stroke: #000000; stroke-width: 0.8"/>
      </g>
     </g>
     <g id="text_24">
      <text style="font-size: 12px; font-family: 'DejaVu Sans', sans-serif; text-anchor: end" x="64.472973" y="349.028081" transform="rotate(-0 64.472973 349.028081)">−50000</text>
     </g>
    </g>
    <g id="ytick_39">
     <g id="line2d_58">
      <g>
       <path d="M 0 0 L -3.5 0" transform="translate(72.972973 312.901719)" style="stroke: #000000; stroke-width: 0.8"/>
      </g>
     </g>
     <g id="text_25">
      <text style="font-size: 12px; font-family: 'DejaVu Sans', sans-serif; text-anchor: end" x="64.472973" y="316.560782" transform="rotate(-0 64.472973 316.560782)">0</text>
     </g>
    </g>
    <g id="ytick_40">
     <g id="line2d_59">
      <g>
       <path d="M 0 0 L -3.5 0" transform="translate(72.972973 280.43442)" style="stroke: #000000; stroke-width: 0.8"/>
      </g>
     </g>
     <g id="text_26">
      <text style="font-size: 12px; font-family: 'DejaVu Sans', sans-serif; text-anchor: end" x="64.472973" y="284.093482" transform="rotate(-0 64.472973 284.093482)">50000</text>
     </g>
    </g>
   </g>
   <g id="line2d_60">
    <path d="M 96.000502 347.901468 
L 98.356742 338.727971 
L 100.712981 323.31719 
L 103.069221 316.288129 
L 105.42546 310.237675 
L 107.7817 310.326819 
L 110.13794 312.325358 
L 112.494179 313.182693 
L 117.206658 306.218802 
L 119.562898 305.067479 
L 121.919137 309.108387 
L 124.275377 305.430125 
L 126.631617 308.13456 
L 128.987856 310.085178 
L 131.344096 308.744765 
L 133.700335 300.833023 
L 136.056575 300.414013 
L 138.412814 307.297194 
L 140.769054 303.971979 
L 143.125294 301.251531 
L 145.481533 298.212148 
L 150.194012 302.632376 
L 152.550252 302.14426 
L 154.906491 300.309441 
L 157.262731 297.159876 
L 159.61897 297.458724 
L 161.97521 304.414896 
L 164.33145 305.968336 
L 166.687689 306.797929 
L 169.043929 301.272494 
L 171.400168 298.132873 
L 173.756408 300.174204 
L 176.112647 300.724351 
L 178.468887 297.666337 
L 180.825127 299.92183 
L 183.181366 302.602164 
L 185.537606 304.537366 
L 187.893845 304.542481 
L 190.250085 305.673002 
L 192.606324 304.14181 
L 194.962564 296.808718 
L 197.318804 300.191806 
L 199.675043 299.806155 
L 202.031283 300.503905 
L 204.387522 303.891337 
L 206.743762 302.282527 
L 209.100001 294.182529 
L 211.456241 299.380479 
L 213.81248 297.697874 
L 216.16872 299.469572 
L 218.52496 301.875674 
L 220.881199 302.169197 
L 223.237439 299.466996 
L 225.593678 301.598365 
L 227.949918 296.835896 
L 230.306157 296.05424 
L 232.662397 304.481333 
L 235.018637 305.029967 
L 237.374876 302.382996 
L 242.087355 292.730871 
L 244.443595 291.220064 
L 246.799834 297.826127 
L 249.156074 302.13274 
L 251.512314 295.484543 
L 253.868553 297.97415 
L 256.224793 299.87296 
L 258.581032 297.565368 
L 260.937272 299.389894 
L 263.293511 296.369988 
L 265.649751 296.168462 
L 268.00599 298.484841 
L 270.36223 303.688173 
L 272.71847 300.121648 
L 275.074709 297.323392 
L 277.430949 296.916364 
L 279.787188 295.835443 
L 282.143428 300.384759 
L 284.499667 298.500671 
L 286.855907 296.08963 
L 289.212147 302.200769 
L 291.568386 299.658249 
L 293.924626 305.170325 
L 296.280865 298.666088 
L 298.637105 297.614526 
L 300.993344 298.69429 
L 303.349584 301.831603 
L 305.705823 297.599563 
L 308.062063 297.916584 
L 310.418303 295.135626 
L 312.774542 291.149329 
L 315.130782 298.051199 
L 317.487021 296.651647 
L 319.843261 295.774898 
L 322.1995 296.701678 
L 324.55574 297.358187 
L 326.91198 301.194708 
L 329.268219 299.779066 
L 331.624459 301.723959 
L 333.980698 300.330377 
L 336.336938 299.67873 
L 338.693177 297.12672 
L 341.049417 297.542643 
L 343.405657 299.940479 
L 348.118136 295.051617 
L 350.474375 295.427962 
L 352.830615 300.201922 
L 355.186854 302.398718 
L 359.899333 297.659625 
L 362.255573 298.652381 
L 364.611813 298.654348 
L 366.968052 300.13564 
L 369.324292 297.834771 
L 371.680531 301.524774 
L 374.036771 298.887596 
L 376.39301 302.529365 
L 378.74925 299.373751 
L 381.10549 299.776565 
L 383.461729 298.226552 
L 385.817969 301.023073 
L 388.174208 296.737006 
L 390.530448 297.003028 
L 392.886687 297.796044 
L 395.242927 301.202057 
L 397.599167 302.429112 
L 399.955406 300.797409 
L 402.311646 297.246825 
L 404.667885 301.866378 
L 409.380364 304.207755 
L 411.736604 303.384979 
L 414.092843 303.626792 
L 416.449083 300.984889 
L 418.805323 302.518207 
L 421.161562 307.838627 
L 423.517802 304.508235 
L 425.874041 300.967342 
L 428.230281 298.864215 
L 430.58652 299.64214 
L 432.94276 293.627898 
L 435.299 296.329676 
L 437.655239 299.891851 
L 440.011479 298.43564 
L 442.367718 301.476307 
L 444.723958 295.190181 
L 447.080197 302.884088 
L 449.436437 303.596078 
L 451.792676 307.259358 
L 454.148916 304.449324 
L 456.505156 302.385881 
L 458.861395 300.131255 
L 461.217635 298.061899 
L 463.573874 297.543375 
L 465.930114 304.94035 
L 468.286353 301.329786 
L 470.642593 300.77822 
L 472.998833 299.899697 
L 475.355072 300.764955 
L 477.711312 296.692872 
L 480.067551 304.028094 
L 482.423791 301.432255 
L 484.78003 303.093468 
L 487.13627 302.093118 
L 489.49251 310.664116 
L 491.848749 300.279483 
L 494.204989 302.569474 
L 496.561228 307.410772 
L 498.917468 306.870634 
L 501.273707 303.863337 
L 503.629947 300.318654 
L 505.986186 297.960133 
L 508.342426 297.408937 
L 510.698666 303.779181 
L 513.054905 303.979141 
L 515.411145 305.676416 
L 517.767384 298.777639 
L 520.123624 299.525462 
L 524.836103 308.533165 
L 527.192343 309.011018 
L 529.548582 304.076277 
L 531.904822 305.455511 
L 534.261061 302.507389 
L 536.617301 303.433528 
L 538.97354 303.337134 
L 541.32978 303.882776 
L 543.68602 303.811046 
L 546.042259 307.407853 
L 548.398499 307.038661 
L 550.754738 299.774232 
L 553.110978 297.706694 
L 555.467217 298.40847 
L 557.823457 302.493883 
L 560.179696 302.948684 
L 562.535936 301.788907 
L 564.892176 302.227446 
L 567.248415 300.923523 
L 567.248415 300.923523 
" clip-path="url(#p424895be4b)" style="fill: none; stroke: #0000ff; stroke-width: 1.5; stroke-linecap: square"/>
   </g>
   <g id="line2d_61">
    <path d="M 96.000502 312.901719 
L 567.248415 312.901719 
L 567.248415 312.901719 
" clip-path="url(#p424895be4b)" style="fill: none; stroke-dasharray: 5.55,2.4; stroke-dashoffset: 0; stroke: #000000; stroke-width: 1.5"/>
   </g>
   <g id="patch_8">
    <path d="M 72.972973 398.378378 
L 72.972973 249.189189 
" style="fill: none; stroke: #000000; stroke-width: 0.8; stroke-linejoin: miter; stroke-linecap: square"/>
   </g>
   <g id="patch_9">
    <path d="M 590.810811 398.378378 
L 590.810811 249.189189 
" style="fill: none; stroke: #000000; stroke-width: 0.8; stroke-linejoin: miter; stroke-linecap: square"/>
   </g>
   <g id="patch_10">
    <path d="M 72.972973 398.378378 
L 590.810811 398.378378 
" style="fill: none; stroke: #000000; stroke-width: 0.8; stroke-linejoin: miter; stroke-linecap: square"/>
   </g>
   <g id="patch_11">
    <path d="M 72.972973 249.189189 
L 590.810811 249.189189 
" style="fill: none; stroke: #000000; stroke-width: 0.8; stroke-linejoin: miter; stroke-linecap: square"/>
   </g>
  </g>
  <g id="axes_3">
   <g id="patch_12">
    <path d="M 72.972973 577.405405 
L 590.810811 577.405405 
L 590.810811 428.108108 
L 72.972973 428.108108 
z
" style="fill: #ffffff"/>
   </g>
   <g id="FillBetweenPolyCollection_3">
    
    <g clip-path="url(#pc864290bda)">
     <path d="M 96.000502 -381.746201 L 96.000502 -334.790742 L 98.356742 -328.738678 L 100.712981 -328.695831 L 103.069221 -320.427646 L 105.42546 -321.724215 L 107.7817 -319.538605 L 110.13794 -318.217169 L 112.494179 -318.217124 L 114.850419 -321.203691 L 117.206658 -323.896303 L 119.562898 -318.93578 L 121.919137 -319.493441 L 124.275377 -320.453846 L 126.631617 -317.997021 L 128.987856 -319.117587 L 131.344096 -324.39359 L 133.700335 -324.333975 L 136.056575 -322.122264 L 138.412814 -323.553198 L 140.769054 -322.7821 L 143.125294 -325.298693 L 145.481533 -325.627902 L 147.837773 -319.737431 L 150.194012 -323.673054 L 152.550252 -326.821581 L 154.906491 -327.506582 L 157.262731 -323.847915 L 159.61897 -323.132521 L 161.97521 -325.79377 L 164.33145 -323.603856 L 166.687689 -324.062987 L 169.043929 -322.27135 L 171.400168 -326.812483 L 173.756408 -327.652246 L 176.112647 -327.492939 L 178.468887 -324.197336 L 180.825127 -322.583922 L 183.181366 -322.706367 L 185.537606 -324.325561 L 187.893845 -318.767453 L 190.250085 -321.463325 L 192.606324 -321.829056 L 194.962564 -319.728841 L 197.318804 -323.370774 L 199.675043 -325.168232 L 202.031283 -325.575874 L 204.387522 -323.464456 L 206.743762 -324.469625 L 209.100001 -325.221792 L 211.456241 -324.725447 L 213.81248 -325.013423 L 216.16872 -323.40504 L 218.52496 -323.923045 L 220.881199 -317.764327 L 223.237439 -322.490526 L 225.593678 -321.559043 L 227.949918 -319.615993 L 230.306157 -320.276375 L 232.662397 -320.81883 L 235.018637 -318.860932 L 237.374876 -317.12303 L 239.731116 -317.2575 L 242.087355 -315.790121 L 244.443595 -315.901947 L 246.799834 -317.8027 L 249.156074 -316.412225 L 251.512314 -316.509683 L 253.868553 -315.987046 L 256.224793 -314.164572 L 258.581032 -317.4459 L 260.937272 -315.944485 L 263.293511 -316.161122 L 265.649751 -314.85165 L 268.00599 -312.169227 L 270.36223 -314.383023 L 272.71847 -318.476651 L 275.074709 -313.148312 L 277.430949 -315.718928 L 279.787188 -313.798902 L 282.143428 -314.509188 L 284.499667 -311.58616 L 286.855907 -313.004652 L 289.212147 -310.091643 L 291.568386 -311.111313 L 293.924626 -305.683169 L 296.280865 -311.436716 L 298.637105 -313.447577 L 300.993344 -310.967234 L 303.349584 -315.765626 L 305.705823 -309.184444 L 308.062063 -311.380379 L 310.418303 -311.429992 L 312.774542 -314.399859 L 315.130782 -311.709149 L 317.487021 -306.041678 L 319.843261 -309.284514 L 322.1995 -310.127083 L 324.55574 -307.662156 L 326.91198 -311.327178 L 329.268219 -309.971899 L 331.624459 -306.818451 L 333.980698 -306.639877 L 336.336938 -311.850284 L 338.693177 -309.844845 L 341.049417 -311.815434 L 343.405657 -313.252034 L 345.761896 -310.500628 L 348.118136 -307.828135 L 350.474375 -310.968154 L 352.830615 -307.664347 L 355.186854 -309.259073 L 357.543094 -319.3086 L 359.899333 -308.437543 L 362.255573 -307.49164 L 364.611813 -301.167521 L 366.968052 -302.034216 L 369.324292 -303.894049 L 371.680531 -298.834586 L 374.036771 -302.861177 L 376.39301 -305.377277 L 378.74925 -306.793744 L 381.10549 -306.295979 L 383.461729 -303.835029 L 385.817969 -308.208892 L 388.174208 -306.781436 L 390.530448 -306.570121 L 392.886687 -306.807959 L 395.242927 -310.96742 L 397.599167 -300.932461 L 399.955406 -305.69167 L 402.311646 -303.349317 L 404.667885 -298.528837 L 407.024125 -299.722353 L 409.380364 -301.356988 L 411.736604 -300.273289 L 414.092843 -301.815736 L 416.449083 -298.159743 L 418.805323 -297.705787 L 421.161562 -302.56795 L 423.517802 -299.566122 L 425.874041 -299.005202 L 428.230281 -302.788752 L 430.58652 -309.135702 L 432.94276 -304.414695 L 435.299 -302.169984 L 437.655239 -305.886345 L 440.011479 -305.968617 L 442.367718 -302.223861 L 444.723958 -296.069905 L 447.080197 -294.672303 L 449.436437 -303.864399 L 451.792676 -300.656602 L 454.148916 -302.900649 L 456.505156 -301.489055 L 458.861395 -306.733576 L 461.217635 -302.939248 L 463.573874 -302.314536 L 465.930114 -303.666556 L 468.286353 -300.289272 L 470.642593 -303.951105 L 472.998833 -303.403691 L 475.355072 -298.240765 L 477.711312 -300.885622 L 480.067551 -299.314412 L 482.423791 -296.131478 L 484.78003 -298.785283 L 487.13627 -299.880453 L 489.49251 -298.800006 L 491.848749 -295.116501 L 494.204989 -295.35461 L 496.561228 -303.040921 L 498.917468 -300.067774 L 501.273707 -300.055124 L 503.629947 -296.384714 L 505.986186 -293.925946 L 508.342426 -304.458405 L 510.698666 -297.768878 L 513.054905 -299.501267 L 515.411145 -297.679309 L 517.767384 -304.96553 L 520.123624 -298.01595 L 522.479863 -296.472486 L 524.836103 -297.084296 L 527.192343 -297.636756 L 529.548582 -302.061295 L 531.904822 -294.792837 L 534.261061 -302.574333 L 536.617301 -300.733759 L 538.97354 -301.074215 L 541.32978 -298.759114 L 543.68602 -299.703515 L 546.042259 -294.601606 L 548.398499 -297.711461 L 550.754738 -301.750093 L 553.110978 -299.307034 L 555.467217 -298.020561 L 557.823457 -298.707384 L 560.179696 -296.643904 L 562.535936 -295.893856 L 564.892176 -297.257266 L 567.248415 -295.164949 L 567.248415 -348.864306 L 567.248415 -348.864306 L 564.892176 -349.38707 L 562.535936 -351.430597 L 560.179696 -351.987228 L 557.823457 -353.731426 L 555.467217 -351.705868 L 553.110978 -353.044027 L 550.754738 -354.606631 L 548.398499 -353.174131 L 546.042259 -351.563744 L 543.68602 -352.206725 L 541.32978 -354.891468 L 538.97354 -351.426201 L 536.617301 -352.723834 L 534.261061 -352.095704 L 531.904822 -348.910452 L 529.548582 -348.13911 L 527.192343 -347.001244 L 524.836103 -349.828503 L 522.479863 -348.205993 L 520.123624 -348.931989 L 517.767384 -349.769554 L 515.411145 -349.454054 L 513.054905 -347.606051 L 510.698666 -351.28102 L 508.342426 -348.380973 L 505.986186 -349.543286 L 503.629947 -348.732686 L 501.273707 -351.843741 L 498.917468 -350.181774 L 496.561228 -352.113592 L 494.204989 -353.289326 L 491.848749 -352.432223 L 489.49251 -349.910535 L 487.13627 -348.002913 L 484.78003 -347.548858 L 482.423791 -346.438349 L 480.067551 -348.827701 L 477.711312 -350.071148 L 475.355072 -351.179169 L 472.998833 -350.007513 L 470.642593 -352.575362 L 468.286353 -350.895647 L 465.930114 -350.98422 L 463.573874 -352.448862 L 461.217635 -349.969703 L 458.861395 -350.44439 L 456.505156 -350.530247 L 454.148916 -347.999227 L 451.792676 -351.734451 L 449.436437 -351.043082 L 447.080197 -352.049016 L 444.723958 -351.889396 L 442.367718 -350.016466 L 440.011479 -353.087295 L 437.655239 -352.515889 L 435.299 -353.540366 L 432.94276 -353.713403 L 430.58652 -353.000842 L 428.230281 -354.641113 L 425.874041 -351.398692 L 423.517802 -353.932481 L 421.161562 -351.647647 L 418.805323 -351.545831 L 416.449083 -352.088133 L 414.092843 -351.650825 L 411.736604 -353.390904 L 409.380364 -352.435423 L 407.024125 -353.871648 L 404.667885 -352.375307 L 402.311646 -352.351784 L 399.955406 -354.513741 L 397.599167 -355.208682 L 395.242927 -355.001218 L 392.886687 -353.81801 L 390.530448 -353.412105 L 388.174208 -355.113412 L 385.817969 -353.076311 L 383.461729 -354.024897 L 381.10549 -354.504431 L 378.74925 -351.937706 L 376.39301 -353.27019 L 374.036771 -353.78898 L 371.680531 -353.812764 L 369.324292 -355.237312 L 366.968052 -355.954821 L 364.611813 -356.59178 L 362.255573 -354.053843 L 359.899333 -353.206305 L 357.543094 -353.356848 L 355.186854 -352.385938 L 352.830615 -351.367599 L 350.474375 -352.258656 L 348.118136 -353.106092 L 345.761896 -354.133163 L 343.405657 -353.592163 L 341.049417 -354.773794 L 338.693177 -354.325449 L 336.336938 -355.131829 L 333.980698 -352.968284 L 331.624459 -353.983491 L 329.268219 -352.867084 L 326.91198 -354.913317 L 324.55574 -354.961012 L 322.1995 -356.268966 L 319.843261 -357.219818 L 317.487021 -357.231699 L 315.130782 -358.130687 L 312.774542 -357.090755 L 310.418303 -357.661324 L 308.062063 -358.826419 L 305.705823 -357.511188 L 303.349584 -356.411858 L 300.993344 -355.957922 L 298.637105 -354.642664 L 296.280865 -354.067561 L 293.924626 -354.18256 L 291.568386 -354.348722 L 289.212147 -354.486492 L 286.855907 -353.310399 L 284.499667 -354.027172 L 282.143428 -353.490155 L 279.787188 -354.860941 L 277.430949 -355.330745 L 275.074709 -358.820773 L 272.71847 -358.789399 L 270.36223 -355.468007 L 268.00599 -355.639714 L 265.649751 -357.481295 L 263.293511 -359.21565 L 260.937272 -358.002529 L 258.581032 -358.743773 L 256.224793 -355.252666 L 253.868553 -355.931955 L 251.512314 -357.470884 L 249.156074 -359.579044 L 246.799834 -359.862915 L 244.443595 -356.303623 L 242.087355 -355.564707 L 239.731116 -356.330867 L 237.374876 -355.05739 L 235.018637 -355.656154 L 232.662397 -356.264921 L 230.306157 -354.724306 L 227.949918 -356.981084 L 225.593678 -354.671439 L 223.237439 -355.100256 L 220.881199 -354.517704 L 218.52496 -358.372624 L 216.16872 -360.340909 L 213.81248 -359.437492 L 211.456241 -359.279259 L 209.100001 -357.889845 L 206.743762 -357.652159 L 204.387522 -358.317937 L 202.031283 -357.998458 L 199.675043 -357.952254 L 197.318804 -356.98354 L 194.962564 -358.126049 L 192.606324 -356.934535 L 190.250085 -356.961372 L 187.893845 -360.14174 L 185.537606 -357.759976 L 183.181366 -358.305185 L 180.825127 -357.655298 L 178.468887 -359.770413 L 176.112647 -358.458903 L 173.756408 -357.337653 L 171.400168 -357.186886 L 169.043929 -359.102614 L 166.687689 -359.465858 L 164.33145 -360.053443 L 161.97521 -358.722811 L 159.61897 -360.777991 L 157.262731 -360.131916 L 154.906491 -360.211155 L 152.550252 -359.346851 L 150.194012 -359.25072 L 147.837773 -358.912508 L 145.481533 -357.550779 L 143.125294 -358.846477 L 140.769054 -358.958172 L 138.412814 -359.918164 L 136.056575 -361.939277 L 133.700335 -358.791289 L 131.344096 -360.570416 L 128.987856 -360.899006 L 126.631617 -360.983878 L 124.275377 -360.231652 L 121.919137 -362.077211 L 119.562898 -363.119452 L 117.206658 -363.050893 L 114.850419 -363.802763 L 112.494179 -364.529824 L 110.13794 -368.348016 L 107.7817 -366.719268 L 105.42546 -368.389714 L 103.069221 -367.792856 L 100.712981 -367.342424 L 98.356742 -370.965187 L 96.000502 -381.746201 z" transform="translate(0 816.216216)" style="fill: #ffc0cb; stroke: #ffc0cb; stroke-width: 0.5"/>
    </g>
   </g>
   <g id="FillBetweenPolyCollection_4">
    
    <g clip-path="url(#pc864290bda)">
     <path d="M 96.000502 -332.127042 L 96.000502 -289.445456 L 98.356742 -282.462569 L 100.712981 -278.732384 L 103.069221 -275.5935 L 105.42546 -270.728228 L 107.7817 -269.681388 L 110.13794 -268.224325 L 112.494179 -270.82587 L 114.850419 -271.156102 L 117.206658 -270.663273 L 119.562898 -271.673996 L 121.919137 -275.424849 L 124.275377 -272.919263 L 126.631617 -270.413749 L 128.987856 -270.257692 L 131.344096 -270.36344 L 133.700335 -269.690308 L 136.056575 -270.645216 L 138.412814 -271.327883 L 140.769054 -272.076135 L 143.125294 -269.545219 L 145.481533 -269.578064 L 147.837773 -269.436507 L 150.194012 -269.917735 L 152.550252 -271.44161 L 154.906491 -268.544853 L 157.262731 -273.058028 L 159.61897 -270.420807 L 161.97521 -271.207495 L 164.33145 -268.022494 L 166.687689 -268.774425 L 169.043929 -268.477912 L 171.400168 -269.297849 L 173.756408 -266.004004 L 176.112647 -269.86804 L 178.468887 -266.423748 L 180.825127 -269.554681 L 183.181366 -270.489139 L 185.537606 -268.757294 L 187.893845 -268.520431 L 190.250085 -268.462103 L 192.606324 -268.3193 L 194.962564 -269.008676 L 197.318804 -269.950233 L 199.675043 -269.486082 L 202.031283 -270.684311 L 204.387522 -268.328572 L 206.743762 -267.234042 L 209.100001 -267.144437 L 211.456241 -265.792001 L 213.81248 -266.950992 L 216.16872 -266.476612 L 218.52496 -269.998471 L 220.881199 -267.885277 L 223.237439 -269.696371 L 225.593678 -263.79846 L 227.949918 -267.057088 L 230.306157 -268.022083 L 232.662397 -266.782949 L 235.018637 -265.4528 L 237.374876 -266.314554 L 239.731116 -266.093042 L 242.087355 -266.024715 L 244.443595 -266.115461 L 246.799834 -267.054536 L 249.156074 -265.824464 L 251.512314 -265.806924 L 253.868553 -265.274896 L 256.224793 -265.839605 L 258.581032 -263.924266 L 260.937272 -265.800796 L 263.293511 -264.298771 L 265.649751 -265.999981 L 268.00599 -263.659925 L 270.36223 -264.36832 L 272.71847 -264.06706 L 275.074709 -262.655573 L 277.430949 -265.721834 L 279.787188 -264.564443 L 282.143428 -263.929419 L 284.499667 -265.653678 L 286.855907 -263.130753 L 289.212147 -263.488085 L 291.568386 -265.106868 L 293.924626 -267.052577 L 296.280865 -263.299536 L 298.637105 -265.548277 L 300.993344 -263.203641 L 303.349584 -261.586073 L 305.705823 -263.477107 L 308.062063 -264.48837 L 310.418303 -262.766409 L 312.774542 -263.064681 L 315.130782 -260.556395 L 317.487021 -258.601039 L 319.843261 -262.342313 L 322.1995 -259.624537 L 324.55574 -261.578953 L 326.91198 -260.539074 L 329.268219 -261.640408 L 331.624459 -262.601323 L 333.980698 -258.546192 L 336.336938 -260.765268 L 338.693177 -260.63819 L 341.049417 -262.813777 L 343.405657 -260.718918 L 345.761896 -259.234495 L 348.118136 -259.481369 L 350.474375 -263.027611 L 352.830615 -258.750179 L 355.186854 -260.053002 L 357.543094 -260.251256 L 359.899333 -257.936572 L 362.255573 -258.306598 L 364.611813 -256.385835 L 366.968052 -257.893565 L 369.324292 -260.168781 L 371.680531 -259.350609 L 374.036771 -255.967966 L 376.39301 -261.02473 L 378.74925 -256.768756 L 381.10549 -257.347603 L 383.461729 -261.289156 L 385.817969 -259.534796 L 388.174208 -258.703129 L 390.530448 -261.123045 L 392.886687 -258.705887 L 395.242927 -259.356438 L 397.599167 -257.945858 L 399.955406 -258.634556 L 402.311646 -258.711789 L 404.667885 -260.518463 L 407.024125 -257.853715 L 409.380364 -258.512315 L 411.736604 -255.470108 L 414.092843 -256.132348 L 416.449083 -259.783207 L 418.805323 -258.048349 L 421.161562 -258.052817 L 423.517802 -259.462172 L 425.874041 -257.955633 L 428.230281 -258.555119 L 430.58652 -257.912068 L 432.94276 -255.177524 L 435.299 -259.164993 L 437.655239 -260.447342 L 440.011479 -259.914503 L 442.367718 -257.88677 L 444.723958 -257.016001 L 447.080197 -256.024107 L 449.436437 -256.713964 L 451.792676 -256.699319 L 454.148916 -254.797471 L 456.505156 -255.589445 L 458.861395 -255.951439 L 461.217635 -255.839282 L 463.573874 -256.244495 L 465.930114 -256.776953 L 468.286353 -252.9085 L 470.642593 -256.827311 L 472.998833 -255.191387 L 475.355072 -253.665478 L 477.711312 -254.884706 L 480.067551 -253.627736 L 482.423791 -256.219192 L 484.78003 -252.254326 L 487.13627 -253.643069 L 489.49251 -253.653581 L 491.848749 -251.428488 L 494.204989 -250.615846 L 496.561228 -253.383328 L 498.917468 -252.483026 L 501.273707 -251.951002 L 503.629947 -251.476451 L 505.986186 -254.920275 L 508.342426 -256.550178 L 510.698666 -252.853819 L 513.054905 -253.882355 L 515.411145 -254.161137 L 517.767384 -253.4339 L 520.123624 -250.427063 L 522.479863 -251.54695 L 524.836103 -251.425546 L 527.192343 -253.971322 L 529.548582 -250.136681 L 531.904822 -251.122419 L 534.261061 -250.489943 L 536.617301 -249.947392 L 538.97354 -247.917524 L 541.32978 -251.052103 L 543.68602 -254.077903 L 546.042259 -251.751688 L 548.398499 -252.092466 L 550.754738 -249.96139 L 553.110978 -251.26581 L 555.467217 -251.976351 L 557.823457 -253.0936 L 560.179696 -251.761856 L 562.535936 -249.948441 L 564.892176 -247.972293 L 567.248415 -247.468349 L 567.248415 -297.300834 L 567.248415 -297.300834 L 564.892176 -297.732132 L 562.535936 -296.278147 L 560.179696 -297.30557 L 557.823457 -296.573502 L 555.467217 -297.68137 L 553.110978 -298.797625 L 550.754738 -296.739895 L 548.398499 -296.935246 L 546.042259 -296.838656 L 543.68602 -296.330424 L 541.32978 -298.564265 L 538.97354 -298.311968 L 536.617301 -298.012973 L 534.261061 -298.481656 L 531.904822 -297.669919 L 529.548582 -296.880695 L 527.192343 -295.452166 L 524.836103 -295.978869 L 522.479863 -296.066496 L 520.123624 -295.854296 L 517.767384 -296.542679 L 515.411145 -296.29958 L 513.054905 -295.250149 L 510.698666 -296.307635 L 508.342426 -294.692578 L 505.986186 -294.353359 L 503.629947 -295.950107 L 501.273707 -295.421836 L 498.917468 -297.468027 L 496.561228 -295.313205 L 494.204989 -296.164347 L 491.848749 -295.814227 L 489.49251 -295.292841 L 487.13627 -295.789519 L 484.78003 -293.987694 L 482.423791 -295.483854 L 480.067551 -296.708162 L 477.711312 -297.522701 L 475.355072 -297.562337 L 472.998833 -296.886525 L 470.642593 -296.996549 L 468.286353 -297.112495 L 465.930114 -296.747196 L 463.573874 -296.629427 L 461.217635 -297.064002 L 458.861395 -297.555894 L 456.505156 -296.913789 L 454.148916 -297.508223 L 451.792676 -295.299447 L 449.436437 -296.05243 L 447.080197 -296.268609 L 444.723958 -295.795072 L 442.367718 -295.384088 L 440.011479 -296.512628 L 437.655239 -296.963805 L 435.299 -298.141234 L 432.94276 -296.778054 L 430.58652 -296.639237 L 428.230281 -296.087015 L 425.874041 -295.144188 L 423.517802 -295.603651 L 421.161562 -295.021011 L 418.805323 -295.955466 L 416.449083 -296.523458 L 414.092843 -296.152136 L 411.736604 -297.044661 L 409.380364 -297.007134 L 407.024125 -297.458241 L 404.667885 -296.845104 L 402.311646 -297.919016 L 399.955406 -297.879183 L 397.599167 -297.215325 L 395.242927 -297.871243 L 392.886687 -298.788836 L 390.530448 -299.079208 L 388.174208 -299.618296 L 385.817969 -299.393431 L 383.461729 -299.115676 L 381.10549 -298.455296 L 378.74925 -298.595396 L 376.39301 -298.536627 L 374.036771 -304.929326 L 371.680531 -303.317604 L 369.324292 -303.487135 L 366.968052 -304.049083 L 364.611813 -304.201656 L 362.255573 -303.329205 L 359.899333 -305.954546 L 357.543094 -306.577046 L 355.186854 -305.596799 L 352.830615 -305.33861 L 350.474375 -304.856268 L 348.118136 -304.386485 L 345.761896 -303.669588 L 343.405657 -304.498927 L 341.049417 -305.893093 L 338.693177 -307.548088 L 336.336938 -305.7922 L 333.980698 -305.839108 L 331.624459 -303.566043 L 329.268219 -302.222994 L 326.91198 -303.456614 L 324.55574 -304.005839 L 322.1995 -305.388083 L 319.843261 -305.581544 L 317.487021 -305.930234 L 315.130782 -308.823307 L 312.774542 -306.858524 L 310.418303 -306.754508 L 308.062063 -305.550697 L 305.705823 -307.444429 L 303.349584 -305.537609 L 300.993344 -305.118997 L 298.637105 -305.054667 L 296.280865 -304.237482 L 293.924626 -304.065666 L 291.568386 -304.291738 L 289.212147 -306.020334 L 286.855907 -305.871588 L 284.499667 -304.917134 L 282.143428 -304.337862 L 279.787188 -305.124613 L 277.430949 -303.528194 L 275.074709 -304.61371 L 272.71847 -303.959418 L 270.36223 -305.675799 L 268.00599 -304.396171 L 265.649751 -306.86158 L 263.293511 -305.553331 L 260.937272 -307.325939 L 258.581032 -305.231308 L 256.224793 -305.541486 L 253.868553 -304.303765 L 251.512314 -305.403339 L 249.156074 -305.432962 L 246.799834 -306.684658 L 244.443595 -306.180575 L 242.087355 -306.447463 L 239.731116 -304.658119 L 237.374876 -307.296646 L 235.018637 -305.779993 L 232.662397 -304.474713 L 230.306157 -306.777995 L 227.949918 -304.229927 L 225.593678 -306.410052 L 223.237439 -305.372749 L 220.881199 -303.908841 L 218.52496 -304.603118 L 216.16872 -306.187869 L 213.81248 -306.533933 L 211.456241 -308.016265 L 209.100001 -305.886263 L 206.743762 -307.524212 L 204.387522 -305.675016 L 202.031283 -305.802697 L 199.675043 -304.62529 L 197.318804 -305.416247 L 194.962564 -308.02396 L 192.606324 -308.197636 L 190.250085 -306.371579 L 187.893845 -304.761164 L 185.537606 -305.589046 L 183.181366 -306.466606 L 180.825127 -307.107797 L 178.468887 -305.698279 L 176.112647 -304.834968 L 173.756408 -305.352864 L 171.400168 -306.151128 L 169.043929 -303.812212 L 166.687689 -305.351129 L 164.33145 -305.501658 L 161.97521 -306.381233 L 159.61897 -308.1822 L 157.262731 -308.894308 L 154.906491 -306.91618 L 152.550252 -306.852938 L 150.194012 -308.063695 L 147.837773 -307.030312 L 145.481533 -306.71755 L 143.125294 -305.519381 L 140.769054 -304.621823 L 138.412814 -308.714695 L 136.056575 -309.171415 L 133.700335 -308.79211 L 131.344096 -308.286984 L 128.987856 -307.923702 L 126.631617 -307.138567 L 124.275377 -309.136303 L 121.919137 -310.143398 L 119.562898 -311.720489 L 117.206658 -310.580481 L 114.850419 -311.293567 L 112.494179 -314.067304 L 110.13794 -313.718002 L 107.7817 -313.960776 L 105.42546 -314.514657 L 103.069221 -317.572805 L 100.712981 -317.427571 L 98.356742 -321.668725 L 96.000502 -332.127042 z" transform="translate(0 816.216216)" style="fill: #d8bfd8; stroke: #d8bfd8; stroke-width: 0.5"/>
    </g>
   </g>
   <g id="matplotlib.axis_5">
    <g id="xtick_19">
     <g id="line2d_62">
      <g>
       <path d="M 0 0 L 0 3.5" transform="translate(96.000502 577.405405)" style="stroke: #000000; stroke-width: 0.8"/>
      </g>
     </g>
     <g id="text_27">
      <text style="font-size: 10px; font-family: 'DejaVu Sans', sans-serif; text-anchor: middle" x="96.920502" y="593.303843" transform="rotate(-0 96.920502 593.303843)">0</text>
     </g>
    </g>
    <g id="xtick_20">
     <g id="line2d_63">
      <g>
       <path d="M 0 0 L 0 3.5" transform="translate(154.906491 577.405405)" style="stroke: #000000; stroke-width: 0.8"/>
      </g>
     </g>
     <g id="text_28">
      <text style="font-size: 10px; font-family: 'DejaVu Sans', sans-serif; text-anchor: middle" x="154.906491" y="593.303843" transform="rotate(-0 154.906491 593.303843)">25</text>
     </g>
    </g>
    <g id="xtick_21">
     <g id="line2d_64">
      <g>
       <path d="M 0 0 L 0 3.5" transform="translate(213.81248 577.405405)" style="stroke: #000000; stroke-width: 0.8"/>
      </g>
     </g>
     <g id="text_29">
      <text style="font-size: 10px; font-family: 'DejaVu Sans', sans-serif; text-anchor: middle" x="213.81248" y="593.303843" transform="rotate(-0 213.81248 593.303843)">50</text>
     </g>
    </g>
    <g id="xtick_22">
     <g id="line2d_65">
      <g>
       <path d="M 0 0 L 0 3.5" transform="translate(272.71847 577.405405)" style="stroke: #000000; stroke-width: 0.8"/>
      </g>
     </g>
     <g id="text_30">
      <text style="font-size: 10px; font-family: 'DejaVu Sans', sans-serif; text-anchor: middle" x="272.71847" y="593.303843" transform="rotate(-0 272.71847 593.303843)">75</text>
     </g>
    </g>
    <g id="xtick_23">
     <g id="line2d_66">
      <g>
       <path d="M 0 0 L 0 3.5" transform="translate(331.624459 577.405405)" style="stroke: #000000; stroke-width: 0.8"/>
      </g>
     </g>
     <g id="text_31">
      <text style="font-size: 10px; font-family: 'DejaVu Sans', sans-serif; text-anchor: middle" x="331.624459" y="593.303843" transform="rotate(-0 331.624459 593.303843)">100</text>
     </g>
    </g>
    <g id="xtick_24">
     <g id="line2d_67">
      <g>
       <path d="M 0 0 L 0 3.5" transform="translate(390.530448 577.405405)" style="stroke: #000000; stroke-width: 0.8"/>
      </g>
     </g>
     <g id="text_32">
      <text style="font-size: 10px; font-family: 'DejaVu Sans', sans-serif; text-anchor: middle" x="390.530448" y="593.303843" transform="rotate(-0 390.530448 593.303843)">125</text>
     </g>
    </g>
    <g id="xtick_25">
     <g id="line2d_68">
      <g>
       <path d="M 0 0 L 0 3.5" transform="translate(449.436437 577.405405)" style="stroke: #000000; stroke-width: 0.8"/>
      </g>
     </g>
     <g id="text_33">
      <text style="font-size: 10px; font-family: 'DejaVu Sans', sans-serif; text-anchor: middle" x="449.436437" y="593.303843" transform="rotate(-0 449.436437 593.303843)">150</text>
     </g>
    </g>
    <g id="xtick_26">
     <g id="line2d_69">
      <g>
       <path d="M 0 0 L 0 3.5" transform="translate(508.342426 577.405405)" style="stroke: #000000; stroke-width: 0.8"/>
      </g>
     </g>
     <g id="text_34">
      <text style="font-size: 10px; font-family: 'DejaVu Sans', sans-serif; text-anchor: middle" x="508.342426" y="593.303843" transform="rotate(-0 508.342426 593.303843)">175</text>
     </g>
    </g>
    <g id="xtick_27">
     <g id="line2d_70">
      <g>
       <path d="M 0 0 L 0 3.5" transform="translate(567.248415 577.405405)" style="stroke: #000000; stroke-width: 0.8"/>
      </g>
     </g>
     <g id="text_35">
      <text style="font-size: 10px; font-family: 'DejaVu Sans', sans-serif; text-anchor: middle" x="567.248415" y="593.303843" transform="rotate(-0 567.248415 593.303843)">200</text>
     </g>
    </g>
   </g>
   <g id="matplotlib.axis_6">
    <g id="ytick_41">
     <g id="line2d_71">
      <g>
       <path d="M 0 0 L -3.5 0" transform="translate(72.972973 552.540074)" style="stroke: #000000; stroke-width: 0.8"/>
      </g>
     </g>
     <g id="text_36">
      <!-- $\mathdefault{10^{3}}$ -->
      <g transform="translate(44.452973 558.799137)">
       <text>
        <tspan x="0" y="-0.171875" style="font-size: 12px; font-family: 'DejaVu Sans', sans-serif">1</tspan>
        <tspan x="7.634766" y="-0.171875" style="font-size: 12px; font-family: 'DejaVu Sans', sans-serif">0</tspan>
        <tspan x="15.384375" y="-4.765625" style="font-size: 8.4px; font-family: 'DejaVu Sans', sans-serif">3</tspan>
       </text>
      </g>
     </g>
    </g>
    <g id="ytick_42">
     <g id="line2d_72">
      <g>
       <path d="M 0 0 L -3.5 0" transform="translate(72.972973 490.593558)" style="stroke: #000000; stroke-width: 0.8"/>
      </g>
     </g>
     <g id="text_37">
      <!-- $\mathdefault{10^{4}}$ -->
      <g transform="translate(44.452973 496.852621)">
       <text>
        <tspan x="0" y="-0.28125" style="font-size: 12px; font-family: 'DejaVu Sans', sans-serif">1</tspan>
        <tspan x="7.634766" y="-0.28125" style="font-size: 12px; font-family: 'DejaVu Sans', sans-serif">0</tspan>
        <tspan x="15.384375" y="-4.875" style="font-size: 8.4px; font-family: 'DejaVu Sans', sans-serif">4</tspan>
       </text>
      </g>
     </g>
    </g>
    <g id="ytick_43">
     <g id="line2d_73">
      <g>
       <path d="M 0 0 L -3.5 0" transform="translate(72.972973 428.647043)" style="stroke: #000000; stroke-width: 0.8"/>
      </g>
     </g>
     <g id="text_38">
      <!-- $\mathdefault{10^{5}}$ -->
      <g transform="translate(44.452973 434.906105)">
       <text>
        <tspan x="0" y="-0.28125" style="font-size: 12px; font-family: 'DejaVu Sans', sans-serif">1</tspan>
        <tspan x="7.634766" y="-0.28125" style="font-size: 12px; font-family: 'DejaVu Sans', sans-serif">0</tspan>
        <tspan x="15.384375" y="-4.875" style="font-size: 8.4px; font-family: 'DejaVu Sans', sans-serif">5</tspan>
       </text>
      </g>
     </g>
    </g>
    <g id="ytick_44">
     <g id="line2d_74">
      <g>
       <path d="M 0 0 L -2 0" transform="translate(72.972973 577.191071)" style="stroke: #000000; stroke-width: 0.6"/>
      </g>
     </g>
    </g>
    <g id="ytick_45">
     <g id="line2d_75">
      <g>
       <path d="M 0 0 L -2 0" transform="translate(72.972973 571.187833)" style="stroke: #000000; stroke-width: 0.6"/>
      </g>
     </g>
    </g>
    <g id="ytick_46">
     <g id="line2d_76">
      <g>
       <path d="M 0 0 L -2 0" transform="translate(72.972973 566.282831)" style="stroke: #000000; stroke-width: 0.6"/>
      </g>
     </g>
    </g>
    <g id="ytick_47">
     <g id="line2d_77">
      <g>
       <path d="M 0 0 L -2 0" transform="translate(72.972973 562.135711)" style="stroke: #000000; stroke-width: 0.6"/>
      </g>
     </g>
    </g>
    <g id="ytick_48">
     <g id="line2d_78">
      <g>
       <path d="M 0 0 L -2 0" transform="translate(72.972973 558.543312)" style="stroke: #000000; stroke-width: 0.6"/>
      </g>
     </g>
    </g>
    <g id="ytick_49">
     <g id="line2d_79">
      <g>
       <path d="M 0 0 L -2 0" transform="translate(72.972973 555.374591)" style="stroke: #000000; stroke-width: 0.6"/>
      </g>
     </g>
    </g>
    <g id="ytick_50">
     <g id="line2d_80">
      <g>
       <path d="M 0 0 L -2 0" transform="translate(72.972973 533.892315)" style="stroke: #000000; stroke-width: 0.6"/>
      </g>
     </g>
    </g>
    <g id="ytick_51">
     <g id="line2d_81">
      <g>
       <path d="M 0 0 L -2 0" transform="translate(72.972973 522.984075)" style="stroke: #000000; stroke-width: 0.6"/>
      </g>
     </g>
    </g>
    <g id="ytick_52">
     <g id="line2d_82">
      <g>
       <path d="M 0 0 L -2 0" transform="translate(72.972973 515.244555)" style="stroke: #000000; stroke-width: 0.6"/>
      </g>
     </g>
    </g>
    <g id="ytick_53">
     <g id="line2d_83">
      <g>
       <path d="M 0 0 L -2 0" transform="translate(72.972973 509.241318)" style="stroke: #000000; stroke-width: 0.6"/>
      </g>
     </g>
    </g>
    <g id="ytick_54">
     <g id="line2d_84">
      <g>
       <path d="M 0 0 L -2 0" transform="translate(72.972973 504.336315)" style="stroke: #000000; stroke-width: 0.6"/>
      </g>
     </g>
    </g>
    <g id="ytick_55">
     <g id="line2d_85">
      <g>
       <path d="M 0 0 L -2 0" transform="translate(72.972973 500.189195)" style="stroke: #000000; stroke-width: 0.6"/>
      </g>
     </g>
    </g>
    <g id="ytick_56">
     <g id="line2d_86">
      <g>
       <path d="M 0 0 L -2 0" transform="translate(72.972973 496.596796)" style="stroke: #000000; stroke-width: 0.6"/>
      </g>
     </g>
    </g>
    <g id="ytick_57">
     <g id="line2d_87">
      <g>
       <path d="M 0 0 L -2 0" transform="translate(72.972973 493.428076)" style="stroke: #000000; stroke-width: 0.6"/>
      </g>
     </g>
    </g>
    <g id="ytick_58">
     <g id="line2d_88">
      <g>
       <path d="M 0 0 L -2 0" transform="translate(72.972973 471.945799)" style="stroke: #000000; stroke-width: 0.6"/>
      </g>
     </g>
    </g>
    <g id="ytick_59">
     <g id="line2d_89">
      <g>
       <path d="M 0 0 L -2 0" transform="translate(72.972973 461.037559)" style="stroke: #000000; stroke-width: 0.6"/>
      </g>
     </g>
    </g>
    <g id="ytick_60">
     <g id="line2d_90">
      <g>
       <path d="M 0 0 L -2 0" transform="translate(72.972973 453.29804)" style="stroke: #000000; stroke-width: 0.6"/>
      </g>
     </g>
    </g>
    <g id="ytick_61">
     <g id="line2d_91">
      <g>
       <path d="M 0 0 L -2 0" transform="translate(72.972973 447.294802)" style="stroke: #000000; stroke-width: 0.6"/>
      </g>
     </g>
    </g>
    <g id="ytick_62">
     <g id="line2d_92">
      <g>
       <path d="M 0 0 L -2 0" transform="translate(72.972973 442.3898)" style="stroke: #000000; stroke-width: 0.6"/>
      </g>
     </g>
    </g>
    <g id="ytick_63">
     <g id="line2d_93">
      <g>
       <path d="M 0 0 L -2 0" transform="translate(72.972973 438.242679)" style="stroke: #000000; stroke-width: 0.6"/>
      </g>
     </g>
    </g>
    <g id="ytick_64">
     <g id="line2d_94">
      <g>
       <path d="M 0 0 L -2 0" transform="translate(72.972973 434.65028)" style="stroke: #000000; stroke-width: 0.6"/>
      </g>
     </g>
    </g>
    <g id="ytick_65">
     <g id="line2d_95">
      <g>
       <path d="M 0 0 L -2 0" transform="translate(72.972973 431.48156)" style="stroke: #000000; stroke-width: 0.6"/>
      </g>
     </g>
    </g>
   </g>
   <g id="line2d_96">
    <path d="M 96.000502 447.72657 
L 98.356742 460.491156 
L 100.712981 461.869314 
L 103.069221 461.758573 
L 105.42546 463.226736 
L 107.7817 464.265477 
L 110.13794 463.030032 
L 112.494179 466.293158 
L 114.850419 466.742869 
L 117.206658 467.355538 
L 119.562898 467.503674 
L 121.919137 468.023746 
L 124.275377 469.045165 
L 126.631617 468.88373 
L 128.987856 469.619602 
L 131.344096 469.758103 
L 133.700335 469.473285 
L 136.056575 465.751261 
L 138.412814 470.947941 
L 140.769054 469.922251 
L 143.125294 468.738987 
L 145.481533 468.746611 
L 147.837773 468.479131 
L 150.194012 468.022832 
L 152.550252 468.522373 
L 154.906491 468.222793 
L 157.262731 469.353171 
L 159.61897 469.479468 
L 161.97521 470.686271 
L 164.33145 470.699934 
L 166.687689 469.543992 
L 169.043929 467.269382 
L 171.400168 469.079055 
L 176.112647 469.179127 
L 178.468887 468.446845 
L 180.825127 469.318349 
L 183.181366 469.592612 
L 185.537606 470.6228 
L 187.893845 468.795962 
L 190.250085 471.504937 
L 192.606324 472.161182 
L 194.962564 468.957992 
L 197.318804 469.567009 
L 199.675043 468.07359 
L 202.031283 468.906142 
L 204.387522 468.454049 
L 206.743762 469.426806 
L 209.100001 468.958333 
L 211.456241 467.824346 
L 213.81248 467.670685 
L 216.16872 467.077779 
L 218.52496 469.467261 
L 220.881199 472.789033 
L 223.237439 472.36212 
L 225.593678 472.1459 
L 227.949918 470.511634 
L 230.306157 470.84064 
L 232.662397 470.226527 
L 235.018637 471.612043 
L 239.731116 471.857327 
L 242.087355 472.152039 
L 244.443595 470.068166 
L 246.799834 469.892315 
L 249.156074 470.632931 
L 251.512314 471.768476 
L 253.868553 471.492726 
L 256.224793 471.329075 
L 258.581032 470.328146 
L 260.937272 472.072328 
L 263.293511 472.907213 
L 265.649751 469.219299 
L 268.00599 472.932657 
L 270.36223 474.448836 
L 272.71847 472.842788 
L 275.074709 471.378627 
L 277.430949 473.681145 
L 279.787188 474.089923 
L 282.143428 473.868411 
L 284.499667 474.522256 
L 286.855907 475.775358 
L 289.212147 474.848317 
L 296.280865 473.500797 
L 300.993344 472.106701 
L 305.705823 473.737275 
L 308.062063 472.820576 
L 310.418303 472.332238 
L 312.774542 470.933749 
L 315.130782 470.870613 
L 317.487021 472.525978 
L 319.843261 473.242199 
L 322.1995 474.831592 
L 324.55574 476.161755 
L 326.91198 476.460586 
L 331.624459 475.653046 
L 333.980698 476.689515 
L 336.336938 475.341189 
L 338.693177 476.186167 
L 341.049417 475.23155 
L 343.405657 475.925795 
L 345.761896 475.489862 
L 348.118136 475.545451 
L 350.474375 476.545643 
L 352.830615 476.973151 
L 355.186854 477.580718 
L 357.543094 477.651538 
L 359.899333 475.800642 
L 362.255573 473.491601 
L 366.968052 476.593952 
L 371.680531 474.140777 
L 374.036771 476.827004 
L 376.39301 477.456172 
L 378.74925 478.594889 
L 381.10549 476.895231 
L 383.461729 476.582604 
L 385.817969 477.540534 
L 388.174208 475.703478 
L 390.530448 476.454556 
L 392.886687 476.149601 
L 395.242927 476.353477 
L 397.599167 476.267823 
L 399.955406 477.843521 
L 402.311646 479.829473 
L 404.667885 478.562949 
L 407.024125 476.792017 
L 409.380364 477.381871 
L 411.736604 475.809358 
L 414.092843 478.146453 
L 416.449083 478.807516 
L 418.805323 480.183101 
L 421.161562 480.249875 
L 423.517802 479.724072 
L 425.874041 480.172308 
L 428.230281 477.681857 
L 430.58652 476.783499 
L 432.94276 476.294086 
L 435.299 476.916625 
L 437.655239 476.549558 
L 440.011479 474.819195 
L 442.367718 477.523694 
L 444.723958 477.44323 
L 447.080197 478.29068 
L 449.436437 480.303696 
L 451.792676 478.629042 
L 454.148916 481.2835 
L 456.505156 478.518847 
L 458.861395 478.378098 
L 461.217635 477.492459 
L 463.573874 477.656157 
L 465.930114 477.610643 
L 468.286353 478.999356 
L 470.642593 478.105805 
L 472.998833 480.321543 
L 475.355072 478.827635 
L 477.711312 480.124506 
L 480.067551 481.652085 
L 482.423791 482.048256 
L 484.78003 480.892956 
L 487.13627 479.122131 
L 489.49251 477.118029 
L 491.848749 478.09929 
L 494.204989 480.85397 
L 496.561228 482.359685 
L 498.917468 480.725024 
L 501.273707 477.223394 
L 503.629947 477.747633 
L 505.986186 476.505121 
L 508.342426 481.071789 
L 510.698666 482.166388 
L 513.054905 483.948728 
L 515.411145 481.019917 
L 517.767384 478.459697 
L 520.123624 479.611533 
L 522.479863 481.067861 
L 524.836103 480.414193 
L 527.192343 483.925024 
L 531.904822 480.812702 
L 534.261061 478.376051 
L 536.617301 477.589191 
L 538.97354 479.485444 
L 541.32978 478.98805 
L 543.68602 481.992392 
L 546.042259 481.931729 
L 548.398499 480.389903 
L 550.754738 477.474239 
L 553.110978 477.399754 
L 555.467217 479.113953 
L 557.823457 478.971723 
L 560.179696 480.512926 
L 562.535936 480.722411 
L 564.892176 482.418968 
L 567.248415 482.271038 
L 567.248415 482.271038 
" clip-path="url(#pc864290bda)" style="fill: none; stroke: #ff0000; stroke-width: 1.5; stroke-linecap: square"/>
   </g>
   <g id="line2d_97">
    <path d="M 96.000502 497.345729 
L 98.356742 509.631452 
L 100.712981 512.167062 
L 103.069221 512.140466 
L 105.42546 515.384176 
L 107.7817 516.078677 
L 110.13794 516.224027 
L 112.494179 516.210502 
L 114.850419 517.598533 
L 119.562898 518.230576 
L 121.919137 517.871979 
L 124.275377 518.978608 
L 126.631617 518.666921 
L 128.987856 517.944348 
L 131.344096 519.412188 
L 133.700335 519.635208 
L 136.056575 520.215748 
L 138.412814 520.161076 
L 140.769054 520.674593 
L 143.125294 520.646889 
L 145.481533 520.292777 
L 147.837773 519.593593 
L 150.194012 519.559538 
L 152.550252 520.448047 
L 154.906491 519.891618 
L 157.262731 521.389469 
L 159.61897 518.567328 
L 161.97521 518.29904 
L 164.33145 520.596183 
L 166.687689 520.108497 
L 169.043929 520.512568 
L 171.400168 519.976241 
L 173.756408 521.249467 
L 176.112647 522.070636 
L 178.468887 520.107829 
L 180.825127 521.804275 
L 183.181366 520.607553 
L 185.537606 521.762614 
L 187.893845 521.683935 
L 190.250085 520.217099 
L 192.606324 519.724834 
L 194.962564 521.306942 
L 197.318804 521.590809 
L 199.675043 521.018826 
L 202.031283 521.876571 
L 204.387522 523.027932 
L 206.743762 521.64094 
L 209.100001 523.655225 
L 211.456241 521.440233 
L 213.81248 522.34272 
L 216.16872 521.836142 
L 218.52496 523.369047 
L 220.881199 522.838925 
L 223.237439 521.792635 
L 225.593678 521.197791 
L 230.306157 522.233917 
L 232.662397 523.618713 
L 235.018637 522.231745 
L 239.731116 523.141853 
L 242.087355 521.810853 
L 244.443595 523.67498 
L 246.799834 521.556683 
L 249.156074 523.710824 
L 251.512314 523.80695 
L 253.868553 523.377223 
L 256.224793 524.505915 
L 258.581032 523.840129 
L 260.937272 523.436309 
L 263.293511 525.044941 
L 265.649751 524.3653 
L 268.00599 524.92213 
L 270.36223 524.168993 
L 272.71847 522.8723 
L 275.074709 524.306678 
L 277.430949 524.164133 
L 279.787188 523.877196 
L 282.143428 525.10498 
L 284.499667 524.017031 
L 286.855907 524.734604 
L 289.212147 524.915427 
L 291.568386 525.913992 
L 293.924626 525.073372 
L 296.280865 523.72389 
L 298.637105 523.667769 
L 300.993344 525.064447 
L 303.349584 524.84179 
L 305.705823 525.362016 
L 310.418303 526.743402 
L 312.774542 523.800407 
L 315.130782 526.225537 
L 317.487021 525.280765 
L 319.843261 524.212205 
L 322.1995 525.963345 
L 324.55574 525.842727 
L 326.91198 525.537834 
L 329.268219 526.145184 
L 331.624459 525.687194 
L 333.980698 526.264475 
L 336.336938 525.06008 
L 338.693177 525.686065 
L 341.049417 527.202946 
L 343.405657 527.398657 
L 345.761896 526.871106 
L 348.118136 526.911821 
L 350.474375 527.094072 
L 352.830615 525.731103 
L 355.186854 527.239181 
L 357.543094 527.090488 
L 359.899333 526.653015 
L 362.255573 528.578079 
L 364.611813 526.564492 
L 366.968052 526.516564 
L 369.324292 525.888272 
L 371.680531 528.030771 
L 374.036771 527.663538 
L 376.39301 528.525806 
L 378.74925 529.228871 
L 381.10549 530.359553 
L 383.461729 528.509662 
L 385.817969 529.734809 
L 388.174208 529.382667 
L 390.530448 530.809648 
L 392.886687 529.24663 
L 395.242927 530.573411 
L 397.599167 531.087426 
L 399.955406 529.664058 
L 402.311646 529.271014 
L 404.667885 530.918878 
L 407.024125 529.130495 
L 409.380364 528.471286 
L 411.736604 529.528484 
L 414.092843 530.857846 
L 416.449083 529.02618 
L 418.805323 528.47743 
L 421.161562 530.309003 
L 423.517802 528.095552 
L 425.874041 529.829998 
L 428.230281 529.880903 
L 430.58652 528.945663 
L 432.94276 529.831109 
L 435.299 529.047838 
L 437.655239 530.257049 
L 440.011479 530.027637 
L 442.367718 530.56475 
L 449.436437 531.746341 
L 451.792676 530.855972 
L 454.148916 528.211229 
L 456.505156 529.243004 
L 458.861395 528.879856 
L 463.573874 531.506541 
L 465.930114 531.614387 
L 468.286353 530.236905 
L 470.642593 528.364166 
L 472.998833 529.83533 
L 475.355072 530.100705 
L 477.711312 531.959952 
L 480.067551 532.241339 
L 482.423791 531.98389 
L 484.78003 532.474373 
L 487.13627 530.691233 
L 489.49251 532.109392 
L 491.848749 533.364041 
L 494.204989 532.944406 
L 496.561228 532.707122 
L 498.917468 528.616483 
L 501.273707 530.145306 
L 503.629947 530.231152 
L 505.986186 533.051654 
L 508.342426 533.570777 
L 510.698666 533.589177 
L 513.054905 535.37035 
L 515.411145 531.409482 
L 517.767384 529.414938 
L 522.479863 531.803172 
L 524.836103 532.524927 
L 527.192343 533.970411 
L 529.548582 535.250643 
L 531.904822 534.092656 
L 534.261061 532.524473 
L 536.617301 531.4432 
L 538.97354 532.432374 
L 541.32978 532.446946 
L 543.68602 535.201855 
L 546.042259 533.683673 
L 548.398499 533.23863 
L 550.754738 531.442047 
L 553.110978 528.079168 
L 555.467217 531.474319 
L 557.823457 533.893912 
L 560.179696 533.138512 
L 562.535936 535.419824 
L 564.892176 533.018995 
L 567.248415 534.987577 
L 567.248415 534.987577 
" clip-path="url(#pc864290bda)" style="fill: none; stroke: #9370db; stroke-width: 1.5; stroke-linecap: square"/>
   </g>
   <g id="patch_13">
    <path d="M 72.972973 577.405405 
L 72.972973 428.108108 
" style="fill: none; stroke: #000000; stroke-width: 0.8; stroke-linejoin: miter; stroke-linecap: square"/>
   </g>
   <g id="patch_14">
    <path d="M 590.810811 577.405405 
L 590.810811 428.108108 
" style="fill: none; stroke: #000000; stroke-width: 0.8; stroke-linejoin: miter; stroke-linecap: square"/>
   </g>
   <g id="patch_15">
    <path d="M 72.972973 577.405405 
L 590.810811 577.405405 
" style="fill: none; stroke: #000000; stroke-width: 0.8; stroke-linejoin: miter; stroke-linecap: square"/>
   </g>
   <g id="patch_16">
    <path d="M 72.972973 428.108108 
L 590.810811 428.108108 
" style="fill: none; stroke: #000000; stroke-width: 0.8; stroke-linejoin: miter; stroke-linecap: square"/>
   </g>
  </g>
  <g id="axes_4">
   <g id="patch_17">
    <path d="M 72.972973 756.216216 
L 590.810811 756.216216 
L 590.810811 607.027027 
L 72.972973 607.027027 
z
" style="fill: #ffffff"/>
   </g>
   <g id="FillBetweenPolyCollection_5">
    
    <g clip-path="url(#pd70919c4e3)">
     <path d="M 96.000502 -202.93323 L 96.000502 -137.100719 L 98.356742 -128.515008 L 100.712981 -127.606839 L 103.069221 -123.435757 L 105.42546 -117.125765 L 107.7817 -110.827511 L 110.13794 -107.993955 L 112.494179 -113.147097 L 114.850419 -116.077408 L 117.206658 -115.46264 L 119.562898 -108.660129 L 121.919137 -113.370999 L 124.275377 -111.626775 L 126.631617 -113.163064 L 128.987856 -110.679391 L 131.344096 -113.899311 L 133.700335 -114.127769 L 136.056575 -114.113774 L 138.412814 -114.017557 L 140.769054 -112.856905 L 143.125294 -115.409609 L 145.481533 -115.203753 L 147.837773 -115.592791 L 150.194012 -115.483662 L 152.550252 -113.084873 L 154.906491 -116.431429 L 157.262731 -116.371419 L 159.61897 -112.674895 L 161.97521 -115.324486 L 164.33145 -117.721641 L 166.687689 -118.438175 L 169.043929 -120.335528 L 171.400168 -120.813791 L 173.756408 -118.757111 L 176.112647 -121.641847 L 178.468887 -115.914914 L 180.825127 -113.286907 L 183.181366 -118.156873 L 185.537606 -114.801869 L 187.893845 -116.849537 L 190.250085 -113.007793 L 192.606324 -110.373219 L 194.962564 -116.847694 L 197.318804 -114.527247 L 199.675043 -115.950154 L 202.031283 -115.746741 L 204.387522 -114.786517 L 206.743762 -116.708345 L 209.100001 -115.856942 L 211.456241 -113.447451 L 213.81248 -111.409681 L 216.16872 -112.082428 L 218.52496 -110.79424 L 220.881199 -110.254637 L 223.237439 -110.810977 L 225.593678 -112.371718 L 227.949918 -109.995756 L 230.306157 -112.737324 L 232.662397 -105.487354 L 235.018637 -105.587777 L 237.374876 -105.646863 L 239.731116 -107.226618 L 242.087355 -112.45474 L 244.443595 -110.430066 L 246.799834 -106.440305 L 249.156074 -107.327109 L 251.512314 -103.953 L 253.868553 -106.112203 L 256.224793 -99.14601 L 258.581032 -98.67959 L 260.937272 -99.151181 L 263.293511 -101.1603 L 265.649751 -104.143199 L 268.00599 -102.761792 L 270.36223 -100.851965 L 272.71847 -99.65666 L 275.074709 -100.716317 L 277.430949 -102.009137 L 279.787188 -99.467754 L 282.143428 -101.874578 L 284.499667 -94.911557 L 286.855907 -96.691289 L 289.212147 -92.050733 L 291.568386 -93.289083 L 293.924626 -93.946649 L 296.280865 -96.230581 L 298.637105 -101.307807 L 300.993344 -100.815506 L 303.349584 -97.917551 L 305.705823 -93.70756 L 308.062063 -95.817392 L 310.418303 -99.470568 L 312.774542 -101.051082 L 315.130782 -97.144191 L 317.487021 -98.073239 L 319.843261 -102.124448 L 322.1995 -102.460463 L 324.55574 -98.278715 L 326.91198 -99.2156 L 329.268219 -95.193167 L 331.624459 -93.872433 L 333.980698 -97.185235 L 336.336938 -97.708632 L 338.693177 -94.588531 L 341.049417 -90.189456 L 343.405657 -92.195211 L 345.761896 -94.75308 L 348.118136 -93.926999 L 350.474375 -96.306956 L 352.830615 -96.877844 L 355.186854 -100.153688 L 357.543094 -98.231551 L 359.899333 -103.840638 L 362.255573 -94.829865 L 364.611813 -90.36297 L 366.968052 -91.700639 L 369.324292 -87.6398 L 371.680531 -88.600923 L 374.036771 -89.405525 L 376.39301 -91.57768 L 378.74925 -96.439735 L 381.10549 -92.789096 L 383.461729 -100.146968 L 385.817969 -98.550744 L 388.174208 -100.787756 L 390.530448 -92.395322 L 392.886687 -85.692281 L 395.242927 -87.455242 L 397.599167 -93.227347 L 399.955406 -90.720825 L 402.311646 -92.427698 L 404.667885 -92.79247 L 407.024125 -91.468209 L 409.380364 -87.015457 L 411.736604 -82.063173 L 414.092843 -80.070001 L 416.449083 -81.916629 L 418.805323 -78.286342 L 421.161562 -75.833752 L 423.517802 -73.649745 L 425.874041 -80.653316 L 428.230281 -84.498475 L 430.58652 -91.182587 L 432.94276 -91.507597 L 435.299 -92.336812 L 437.655239 -84.567092 L 440.011479 -82.116027 L 442.367718 -85.444111 L 444.723958 -94.65269 L 447.080197 -87.523325 L 449.436437 -83.813475 L 451.792676 -86.583641 L 454.148916 -86.722808 L 456.505156 -89.444111 L 458.861395 -87.10828 L 461.217635 -88.180444 L 463.573874 -83.430753 L 465.930114 -83.730605 L 468.286353 -88.044279 L 470.642593 -85.252749 L 472.998833 -81.764998 L 475.355072 -82.267 L 477.711312 -86.150686 L 480.067551 -88.135903 L 482.423791 -88.700447 L 484.78003 -84.311988 L 487.13627 -82.466757 L 489.49251 -84.307535 L 491.848749 -84.665349 L 494.204989 -83.45253 L 496.561228 -79.713833 L 498.917468 -83.507435 L 501.273707 -84.53335 L 503.629947 -88.932043 L 505.986186 -84.64069 L 508.342426 -83.935786 L 510.698666 -85.918119 L 513.054905 -84.192575 L 515.411145 -83.339889 L 517.767384 -82.451148 L 520.123624 -84.599463 L 522.479863 -83.504975 L 524.836103 -86.902485 L 527.192343 -79.613799 L 529.548582 -77.262372 L 531.904822 -72.428535 L 534.261061 -74.396274 L 536.617301 -80.96173 L 538.97354 -74.065699 L 541.32978 -79.435777 L 543.68602 -80.698646 L 546.042259 -73.044545 L 548.398499 -71.66484 L 550.754738 -79.933004 L 553.110978 -82.824953 L 555.467217 -84.630975 L 557.823457 -81.881052 L 560.179696 -72.158758 L 562.535936 -72.742612 L 564.892176 -73.488562 L 567.248415 -70.054299 L 567.248415 -150.670632 L 567.248415 -150.670632 L 564.892176 -147.850904 L 562.535936 -147.462853 L 560.179696 -149.036717 L 557.823457 -150.775197 L 555.467217 -150.598275 L 553.110978 -155.690816 L 550.754738 -151.256561 L 548.398499 -149.728497 L 546.042259 -147.140977 L 543.68602 -147.905262 L 541.32978 -149.988244 L 538.97354 -152.28815 L 536.617301 -155.092496 L 534.261061 -153.765393 L 531.904822 -153.391989 L 529.548582 -150.508353 L 527.192343 -149.528802 L 524.836103 -145.93399 L 522.479863 -148.317074 L 520.123624 -149.170465 L 517.767384 -152.980667 L 515.411145 -147.598959 L 513.054905 -147.251022 L 510.698666 -147.555904 L 508.342426 -154.000507 L 505.986186 -156.435765 L 503.629947 -150.804744 L 501.273707 -153.478846 L 498.917468 -155.030532 L 496.561228 -157.858162 L 494.204989 -150.76067 L 491.848749 -150.300032 L 489.49251 -149.425074 L 487.13627 -146.697458 L 484.78003 -148.272003 L 482.423791 -148.682462 L 480.067551 -149.787905 L 477.711312 -155.067812 L 475.355072 -151.166207 L 472.998833 -152.98346 L 470.642593 -152.231535 L 468.286353 -152.567202 L 465.930114 -155.842967 L 463.573874 -150.583823 L 461.217635 -151.635256 L 458.861395 -151.540679 L 456.505156 -156.140832 L 454.148916 -150.959331 L 451.792676 -151.018426 L 449.436437 -149.104138 L 447.080197 -148.773975 L 444.723958 -156.798039 L 442.367718 -157.021168 L 440.011479 -155.037854 L 437.655239 -152.451375 L 435.299 -152.956743 L 432.94276 -152.600379 L 430.58652 -155.351294 L 428.230281 -154.840035 L 425.874041 -151.687055 L 423.517802 -150.452854 L 421.161562 -151.119224 L 418.805323 -152.502544 L 416.449083 -154.236546 L 414.092843 -153.128725 L 411.736604 -154.300897 L 409.380364 -154.462898 L 407.024125 -156.729144 L 404.667885 -156.311598 L 402.311646 -156.40601 L 399.955406 -154.39971 L 397.599167 -149.3687 L 395.242927 -156.69259 L 392.886687 -155.66857 L 390.530448 -158.159882 L 388.174208 -156.676269 L 385.817969 -155.88117 L 383.461729 -153.110493 L 381.10549 -154.676437 L 378.74925 -155.54312 L 376.39301 -158.215033 L 374.036771 -159.723449 L 371.680531 -161.12121 L 369.324292 -158.881141 L 366.968052 -158.354832 L 364.611813 -156.812834 L 362.255573 -159.527294 L 359.899333 -158.161018 L 357.543094 -153.009311 L 355.186854 -156.684191 L 352.830615 -155.40616 L 350.474375 -153.174804 L 348.118136 -156.51683 L 345.761896 -156.874736 L 343.405657 -158.004167 L 341.049417 -155.083514 L 338.693177 -157.192254 L 336.336938 -157.35859 L 333.980698 -157.840847 L 331.624459 -155.641947 L 329.268219 -156.600833 L 326.91198 -160.078278 L 324.55574 -157.430516 L 322.1995 -160.627094 L 319.843261 -158.724169 L 317.487021 -163.463342 L 315.130782 -165.648342 L 312.774542 -164.538454 L 310.418303 -162.493049 L 308.062063 -163.465474 L 305.705823 -159.984966 L 303.349584 -161.162277 L 300.993344 -158.201244 L 298.637105 -156.993962 L 296.280865 -159.837682 L 293.924626 -155.268502 L 291.568386 -161.650791 L 289.212147 -160.365847 L 286.855907 -160.251151 L 284.499667 -160.135441 L 282.143428 -156.905712 L 279.787188 -159.079002 L 277.430949 -162.369426 L 275.074709 -163.083811 L 272.71847 -160.831463 L 270.36223 -159.948127 L 268.00599 -165.008034 L 265.649751 -165.180541 L 263.293511 -163.798403 L 260.937272 -161.843685 L 258.581032 -163.143129 L 256.224793 -163.098436 L 253.868553 -162.144764 L 251.512314 -161.759834 L 249.156074 -161.559917 L 246.799834 -164.028914 L 244.443595 -166.443646 L 242.087355 -165.8662 L 239.731116 -159.981712 L 237.374876 -159.468237 L 235.018637 -156.318451 L 232.662397 -157.817649 L 230.306157 -163.664627 L 227.949918 -162.544386 L 225.593678 -164.25718 L 223.237439 -162.299469 L 220.881199 -158.978935 L 218.52496 -158.113085 L 216.16872 -163.718914 L 213.81248 -166.375341 L 211.456241 -163.244546 L 209.100001 -162.421337 L 206.743762 -163.990548 L 204.387522 -165.719517 L 202.031283 -162.661351 L 199.675043 -159.779817 L 197.318804 -163.785075 L 194.962564 -165.049114 L 192.606324 -161.153912 L 190.250085 -160.340467 L 187.893845 -162.123709 L 185.537606 -160.038505 L 183.181366 -164.16765 L 180.825127 -163.47932 L 178.468887 -161.84814 L 176.112647 -162.500783 L 173.756408 -166.425691 L 171.400168 -165.360774 L 169.043929 -161.366993 L 166.687689 -160.656796 L 164.33145 -162.485859 L 161.97521 -166.871631 L 159.61897 -166.835726 L 157.262731 -167.753624 L 154.906491 -166.412365 L 152.550252 -168.186223 L 150.194012 -169.69249 L 147.837773 -169.963289 L 145.481533 -167.614312 L 143.125294 -166.940183 L 140.769054 -170.102112 L 138.412814 -164.321135 L 136.056575 -171.670331 L 133.700335 -168.493167 L 131.344096 -167.14076 L 128.987856 -167.957781 L 126.631617 -169.623236 L 124.275377 -166.992228 L 121.919137 -174.941357 L 119.562898 -174.274422 L 117.206658 -168.431321 L 114.850419 -173.299374 L 112.494179 -175.464381 L 110.13794 -175.938436 L 107.7817 -176.911761 L 105.42546 -178.12056 L 103.069221 -180.769028 L 100.712981 -180.93307 L 98.356742 -189.600652 L 96.000502 -202.93323 z" transform="translate(0 816.216216)" style="fill: #778899; stroke: #778899; stroke-width: 0.5"/>
    </g>
   </g>
   <g id="matplotlib.axis_7">
    <g id="xtick_28">
     <g id="line2d_98">
      <g>
       <path d="M 0 0 L 0 3.5" transform="translate(96.000502 756.216216)" style="stroke: #000000; stroke-width: 0.8"/>
      </g>
     </g>
     <g id="text_39">
      <text style="font-size: 10px; font-family: 'DejaVu Sans', sans-serif; text-anchor: middle" x="96.920502" y="772.114654" transform="rotate(-0 96.920502 772.114654)">0</text>
     </g>
    </g>
    <g id="xtick_29">
     <g id="line2d_99">
      <g>
       <path d="M 0 0 L 0 3.5" transform="translate(154.906491 756.216216)" style="stroke: #000000; stroke-width: 0.8"/>
      </g>
     </g>
     <g id="text_40">
      <text style="font-size: 10px; font-family: 'DejaVu Sans', sans-serif; text-anchor: middle" x="154.906491" y="772.114654" transform="rotate(-0 154.906491 772.114654)">25</text>
     </g>
    </g>
    <g id="xtick_30">
     <g id="line2d_100">
      <g>
       <path d="M 0 0 L 0 3.5" transform="translate(213.81248 756.216216)" style="stroke: #000000; stroke-width: 0.8"/>
      </g>
     </g>
     <g id="text_41">
      <text style="font-size: 10px; font-family: 'DejaVu Sans', sans-serif; text-anchor: middle" x="213.81248" y="772.114654" transform="rotate(-0 213.81248 772.114654)">50</text>
     </g>
    </g>
    <g id="xtick_31">
     <g id="line2d_101">
      <g>
       <path d="M 0 0 L 0 3.5" transform="translate(272.71847 756.216216)" style="stroke: #000000; stroke-width: 0.8"/>
      </g>
     </g>
     <g id="text_42">
      <text style="font-size: 10px; font-family: 'DejaVu Sans', sans-serif; text-anchor: middle" x="272.71847" y="772.114654" transform="rotate(-0 272.71847 772.114654)">75</text>
     </g>
    </g>
    <g id="xtick_32">
     <g id="line2d_102">
      <g>
       <path d="M 0 0 L 0 3.5" transform="translate(331.624459 756.216216)" style="stroke: #000000; stroke-width: 0.8"/>
      </g>
     </g>
     <g id="text_43">
      <text style="font-size: 10px; font-family: 'DejaVu Sans', sans-serif; text-anchor: middle" x="331.624459" y="772.114654" transform="rotate(-0 331.624459 772.114654)">100</text>
     </g>
    </g>
    <g id="xtick_33">
     <g id="line2d_103">
      <g>
       <path d="M 0 0 L 0 3.5" transform="translate(390.530448 756.216216)" style="stroke: #000000; stroke-width: 0.8"/>
      </g>
     </g>
     <g id="text_44">
      <text style="font-size: 10px; font-family: 'DejaVu Sans', sans-serif; text-anchor: middle" x="390.530448" y="772.114654" transform="rotate(-0 390.530448 772.114654)">125</text>
     </g>
    </g>
    <g id="xtick_34">
     <g id="line2d_104">
      <g>
       <path d="M 0 0 L 0 3.5" transform="translate(449.436437 756.216216)" style="stroke: #000000; stroke-width: 0.8"/>
      </g>
     </g>
     <g id="text_45">
      <text style="font-size: 10px; font-family: 'DejaVu Sans', sans-serif; text-anchor: middle" x="449.436437" y="772.114654" transform="rotate(-0 449.436437 772.114654)">150</text>
     </g>
    </g>
    <g id="xtick_35">
     <g id="line2d_105">
      <g>
       <path d="M 0 0 L 0 3.5" transform="translate(508.342426 756.216216)" style="stroke: #000000; stroke-width: 0.8"/>
      </g>
     </g>
     <g id="text_46">
      <text style="font-size: 10px; font-family: 'DejaVu Sans', sans-serif; text-anchor: middle" x="508.342426" y="772.114654" transform="rotate(-0 508.342426 772.114654)">175</text>
     </g>
    </g>
    <g id="xtick_36">
     <g id="line2d_106">
      <g>
       <path d="M 0 0 L 0 3.5" transform="translate(567.248415 756.216216)" style="stroke: #000000; stroke-width: 0.8"/>
      </g>
     </g>
     <g id="text_47">
      <text style="font-size: 10px; font-family: 'DejaVu Sans', sans-serif; text-anchor: middle" x="567.248415" y="772.114654" transform="rotate(-0 567.248415 772.114654)">200</text>
     </g>
    </g>
   </g>
   <g id="matplotlib.axis_8">
    <g id="ytick_66">
     <g id="line2d_107">
      <g>
       <path d="M 0 0 L -3.5 0" transform="translate(72.972973 730.921196)" style="stroke: #000000; stroke-width: 0.8"/>
      </g>
     </g>
     <g id="text_48">
      <!-- $\mathdefault{10^{3}}$ -->
      <g transform="translate(44.452973 737.180258)">
       <text>
        <tspan x="0" y="-0.171875" style="font-size: 12px; font-family: 'DejaVu Sans', sans-serif">1</tspan>
        <tspan x="7.634766" y="-0.171875" style="font-size: 12px; font-family: 'DejaVu Sans', sans-serif">0</tspan>
        <tspan x="15.384375" y="-4.765625" style="font-size: 8.4px; font-family: 'DejaVu Sans', sans-serif">3</tspan>
       </text>
      </g>
     </g>
    </g>
    <g id="ytick_67">
     <g id="line2d_108">
      <g>
       <path d="M 0 0 L -3.5 0" transform="translate(72.972973 637.409105)" style="stroke: #000000; stroke-width: 0.8"/>
      </g>
     </g>
     <g id="text_49">
      <!-- $\mathdefault{10^{4}}$ -->
      <g transform="translate(44.452973 643.668168)">
       <text>
        <tspan x="0" y="-0.28125" style="font-size: 12px; font-family: 'DejaVu Sans', sans-serif">1</tspan>
        <tspan x="7.634766" y="-0.28125" style="font-size: 12px; font-family: 'DejaVu Sans', sans-serif">0</tspan>
        <tspan x="15.384375" y="-4.875" style="font-size: 8.4px; font-family: 'DejaVu Sans', sans-serif">4</tspan>
       </text>
      </g>
     </g>
    </g>
    <g id="ytick_68">
     <g id="line2d_109">
      <g>
       <path d="M 0 0 L -2 0" transform="translate(72.972973 751.666736)" style="stroke: #000000; stroke-width: 0.6"/>
      </g>
     </g>
    </g>
    <g id="ytick_69">
     <g id="line2d_110">
      <g>
       <path d="M 0 0 L -2 0" transform="translate(72.972973 745.406402)" style="stroke: #000000; stroke-width: 0.6"/>
      </g>
     </g>
    </g>
    <g id="ytick_70">
     <g id="line2d_111">
      <g>
       <path d="M 0 0 L -2 0" transform="translate(72.972973 739.983454)" style="stroke: #000000; stroke-width: 0.6"/>
      </g>
     </g>
    </g>
    <g id="ytick_71">
     <g id="line2d_112">
      <g>
       <path d="M 0 0 L -2 0" transform="translate(72.972973 735.200074)" style="stroke: #000000; stroke-width: 0.6"/>
      </g>
     </g>
    </g>
    <g id="ytick_72">
     <g id="line2d_113">
      <g>
       <path d="M 0 0 L -2 0" transform="translate(72.972973 702.771252)" style="stroke: #000000; stroke-width: 0.6"/>
      </g>
     </g>
    </g>
    <g id="ytick_73">
     <g id="line2d_114">
      <g>
       <path d="M 0 0 L -2 0" transform="translate(72.972973 686.30459)" style="stroke: #000000; stroke-width: 0.6"/>
      </g>
     </g>
    </g>
    <g id="ytick_74">
     <g id="line2d_115">
      <g>
       <path d="M 0 0 L -2 0" transform="translate(72.972973 674.621307)" style="stroke: #000000; stroke-width: 0.6"/>
      </g>
     </g>
    </g>
    <g id="ytick_75">
     <g id="line2d_116">
      <g>
       <path d="M 0 0 L -2 0" transform="translate(72.972973 665.559049)" style="stroke: #000000; stroke-width: 0.6"/>
      </g>
     </g>
    </g>
    <g id="ytick_76">
     <g id="line2d_117">
      <g>
       <path d="M 0 0 L -2 0" transform="translate(72.972973 658.154646)" style="stroke: #000000; stroke-width: 0.6"/>
      </g>
     </g>
    </g>
    <g id="ytick_77">
     <g id="line2d_118">
      <g>
       <path d="M 0 0 L -2 0" transform="translate(72.972973 651.894311)" style="stroke: #000000; stroke-width: 0.6"/>
      </g>
     </g>
    </g>
    <g id="ytick_78">
     <g id="line2d_119">
      <g>
       <path d="M 0 0 L -2 0" transform="translate(72.972973 646.471363)" style="stroke: #000000; stroke-width: 0.6"/>
      </g>
     </g>
    </g>
    <g id="ytick_79">
     <g id="line2d_120">
      <g>
       <path d="M 0 0 L -2 0" transform="translate(72.972973 641.687984)" style="stroke: #000000; stroke-width: 0.6"/>
      </g>
     </g>
    </g>
    <g id="ytick_80">
     <g id="line2d_121">
      <g>
       <path d="M 0 0 L -2 0" transform="translate(72.972973 609.259161)" style="stroke: #000000; stroke-width: 0.6"/>
      </g>
     </g>
    </g>
   </g>
   <g id="line2d_122">
    <path d="M 96.000502 633.949158 
L 98.356742 646.32413 
L 100.712981 654.579769 
L 103.069221 655.816885 
L 105.42546 659.698885 
L 107.7817 660.55887 
L 110.13794 659.812806 
L 112.494179 661.19938 
L 114.850419 661.551044 
L 117.206658 664.2322 
L 119.562898 662.774975 
L 121.919137 665.370173 
L 124.275377 667.154714 
L 126.631617 667.618218 
L 128.987856 668.985285 
L 131.344096 669.094494 
L 133.700335 669.502238 
L 136.056575 663.474201 
L 138.412814 671.446425 
L 140.769054 665.919074 
L 143.125294 667.594952 
L 145.481533 666.583223 
L 147.837773 663.722547 
L 150.194012 666.251926 
L 152.550252 667.260396 
L 154.906491 666.841369 
L 157.262731 666.047129 
L 159.61897 668.700401 
L 161.97521 669.56783 
L 164.33145 671.46552 
L 166.687689 673.513957 
L 169.043929 669.534781 
L 171.400168 667.854209 
L 173.756408 667.71892 
L 176.112647 670.580552 
L 178.468887 670.806359 
L 183.181366 669.001616 
L 185.537606 672.130122 
L 187.893845 671.364201 
L 190.250085 674.478656 
L 192.606324 674.466623 
L 194.962564 668.654569 
L 197.318804 669.373749 
L 199.675043 671.375472 
L 202.031283 671.0506 
L 204.387522 669.524705 
L 206.743762 669.640665 
L 209.100001 668.293176 
L 211.456241 667.642837 
L 213.81248 667.983393 
L 216.16872 671.509226 
L 218.52496 676.377345 
L 220.881199 675.006454 
L 223.237439 671.490736 
L 225.593678 672.368633 
L 227.949918 672.970715 
L 230.306157 669.830215 
L 232.662397 675.047998 
L 235.018637 677.38457 
L 237.374876 675.134456 
L 239.731116 675.495536 
L 242.087355 670.783718 
L 244.443595 668.051073 
L 246.799834 670.144161 
L 249.156074 674.724402 
L 251.512314 673.331272 
L 253.868553 671.527755 
L 256.224793 672.313473 
L 258.581032 673.234099 
L 260.937272 673.588458 
L 263.293511 672.369329 
L 265.649751 669.603487 
L 268.00599 673.741585 
L 270.36223 674.757007 
L 272.71847 673.550199 
L 275.074709 671.663192 
L 277.430949 672.860371 
L 279.787188 675.563844 
L 282.143428 677.944265 
L 284.499667 676.691357 
L 286.855907 676.485939 
L 289.212147 676.609236 
L 291.568386 675.949545 
L 293.924626 680.788244 
L 296.280865 677.62426 
L 298.637105 678.187356 
L 300.993344 677.120218 
L 303.349584 676.263183 
L 305.705823 679.444839 
L 310.418303 674.732336 
L 312.774542 671.58044 
L 315.130782 672.413639 
L 317.487021 673.552237 
L 319.843261 677.173421 
L 322.1995 676.995283 
L 324.55574 679.899815 
L 326.91198 674.674916 
L 329.268219 678.329447 
L 331.624459 681.460282 
L 333.980698 679.470654 
L 336.336938 678.488443 
L 338.693177 678.947261 
L 341.049417 681.444931 
L 343.405657 679.218152 
L 345.761896 678.546865 
L 348.118136 678.939503 
L 350.474375 680.320883 
L 352.830615 679.983481 
L 355.186854 680.275432 
L 357.543094 681.767374 
L 359.899333 676.92066 
L 362.255573 678.739463 
L 364.611813 681.596076 
L 366.968052 679.860888 
L 369.324292 678.370046 
L 371.680531 677.237267 
L 374.036771 679.944978 
L 376.39301 682.431235 
L 378.74925 681.358512 
L 381.10549 680.682633 
L 383.461729 682.214035 
L 385.817969 679.08285 
L 388.174208 678.777964 
L 390.530448 678.898522 
L 392.886687 682.128683 
L 395.242927 681.29334 
L 397.599167 685.222252 
L 399.955406 681.274957 
L 402.311646 680.249748 
L 404.667885 679.8793 
L 407.024125 680.536154 
L 409.380364 682.703122 
L 411.736604 683.822459 
L 414.092843 685.447616 
L 416.449083 684.779579 
L 418.805323 684.792134 
L 421.161562 686.226628 
L 423.517802 688.954905 
L 425.874041 685.448062 
L 428.230281 681.395436 
L 430.58652 681.670342 
L 432.94276 683.473321 
L 435.299 681.021217 
L 437.655239 680.793675 
L 440.011479 682.290909 
L 442.367718 680.728034 
L 444.723958 677.686079 
L 447.080197 685.824752 
L 449.436437 687.016051 
L 451.792676 684.190285 
L 454.148916 684.497276 
L 456.505156 680.538414 
L 458.861395 682.675675 
L 461.217635 683.235209 
L 463.573874 685.850918 
L 465.930114 682.776808 
L 468.286353 683.460958 
L 470.642593 685.462876 
L 472.998833 684.954989 
L 475.355072 685.888016 
L 477.711312 683.956188 
L 480.067551 687.914116 
L 482.423791 687.808264 
L 484.78003 687.077465 
L 487.13627 689.518734 
L 489.49251 686.227113 
L 491.848749 686.742362 
L 494.204989 691.108255 
L 496.561228 688.728444 
L 498.917468 686.774655 
L 501.273707 684.598602 
L 503.629947 683.421238 
L 505.986186 680.014455 
L 508.342426 684.664978 
L 510.698666 690.693504 
L 513.054905 688.111781 
L 517.767384 686.219002 
L 520.123624 690.457648 
L 522.479863 688.207561 
L 524.836103 688.739524 
L 527.192343 691.072617 
L 529.548582 692.061719 
L 531.904822 687.269644 
L 534.261061 682.788392 
L 536.617301 684.204412 
L 538.97354 687.891759 
L 541.32978 687.332238 
L 543.68602 687.424528 
L 546.042259 689.211798 
L 548.398499 691.627594 
L 550.754738 686.621334 
L 553.110978 680.292442 
L 555.467217 686.408837 
L 557.823457 689.1101 
L 560.179696 688.592597 
L 562.535936 690.527258 
L 564.892176 688.700626 
L 567.248415 688.393378 
L 567.248415 688.393378 
" clip-path="url(#pd70919c4e3)" style="fill: none; stroke: #000000; stroke-width: 1.5; stroke-linecap: square"/>
   </g>
   <g id="patch_18">
    <path d="M 72.972973 756.216216 
L 72.972973 607.027027 
" style="fill: none; stroke: #000000; stroke-width: 0.8; stroke-linejoin: miter; stroke-linecap: square"/>
   </g>
   <g id="patch_19">
    <path d="M 590.810811 756.216216 
L 590.810811 607.027027 
" style="fill: none; stroke: #000000; stroke-width: 0.8; stroke-linejoin: miter; stroke-linecap: square"/>
   </g>
   <g id="patch_20">
    <path d="M 72.972973 756.216216 
L 590.810811 756.216216 
" style="fill: none; stroke: #000000; stroke-width: 0.8; stroke-linejoin: miter; stroke-linecap: square"/>
   </g>
   <g id="patch_21">
    <path d="M 72.972973 607.027027 
L 590.810811 607.027027 
" style="fill: none; stroke: #000000; stroke-width: 0.8; stroke-linejoin: miter; stroke-linecap: square"/>
   </g>
  </g>
 </g>
 <defs>
  <clipPath id="pb293c02546">
   <rect x="72.972973" y="69.837838" width="517.837838" height="149.405405"/>
  </clipPath>
  <clipPath id="p424895be4b">
   <rect x="72.972973" y="249.189189" width="517.837838" height="149.189189"/>
  </clipPath>
  <clipPath id="pc864290bda">
   <rect x="72.972973" y="428.108108" width="517.837838" height="149.297297"/>
  </clipPath>
  <clipPath id="pd70919c4e3">
   <rect x="72.972973" y="607.027027" width="517.837838" height="149.189189"/>
  </clipPath>
 </defs>
<g id="legends" transform="scale(1.081081)">
<rect x="266.80" y="71.60" width="272.60" height="25.90" rx="2.6" ry="2.6" style="fill:#fff;fill-opacity:0.8;stroke:#ccc;stroke-opacity:0.8;stroke-width:0.925"/>
<path d="M272.93 83.30L299.60 83.30" style="fill:none;stroke:#008000;stroke-width:1.39;stroke-linecap:square"/>
<text xml:space="preserve" style="font-family:'DejaVu Sans',sans-serif;fill:#000"><tspan x="310.50" y="87.70" style="letter-spacing:0.045px;font-size:13.33px">Dual Opt Gap </tspan><tspan x="405.24" y="87.70" style="font-style:oblique;font-size:13.33px">d</tspan><tspan x="414.00" y="90.20" style="font-style:oblique;font-size:9.33px">θ</tspan><tspan x="419.81" y="87.70" style="font-size:13.33px">(</tspan><tspan x="425.21" y="87.70" style="font-weight:bold;font-size:13.33px">λ</tspan><tspan x="434.64" y="82.00" style="font-weight:bold;font-size:6.93px">⋆</tspan><tspan x="440.38" y="87.70" style="font-size:13.33px">,</tspan><tspan x="444.62" y="87.70" style="font-size:13.33px"> </tspan><tspan x="447.16" y="87.70" style="font-weight:bold;font-size:13.33px">ν</tspan><tspan x="456.54" y="82.00" style="font-weight:bold;font-size:6.93px">⋆</tspan><tspan x="462.07" y="87.70" style="font-size:13.33px">)</tspan><tspan x="469.87" y="87.70" style="font-size:13.33px">−</tspan><tspan x="484.04" y="87.70" style="font-style:oblique;font-size:13.33px">d</tspan><tspan x="492.31" y="90.20" style="font-style:oblique;font-size:9.33px">θ</tspan><tspan x="498.31" y="87.70" style="font-size:13.33px">(</tspan><tspan x="503.51" y="87.70" style="font-weight:bold;font-size:13.33px">λ</tspan><tspan x="511.95" y="87.70" style="font-size:13.33px">,</tspan><tspan x="516.19" y="87.70" style="font-size:13.33px"> </tspan><tspan x="520.02" y="87.70" style="font-weight:bold;font-size:13.33px">ν</tspan><tspan x="529.10" y="87.70" style="font-size:13.33px">)</tspan></text>
<rect x="243.75" y="313.10" width="295.75" height="48.10" rx="2.6" ry="2.6" style="fill:#fff;fill-opacity:0.8;stroke:#ccc;stroke-opacity:0.8;stroke-width:0.925"/>
<path d="M248.48 324.80L275.15 324.80" style="fill:none;stroke:#0000ff;stroke-width:1.39;stroke-linecap:square"/>
<path d="M248.48 347.50L275.15 347.50" style="fill:none;stroke:#000;stroke-width:1.39;stroke-dasharray:5.13,2.22"/>
<text xml:space="preserve" style="font-family:'DejaVu Sans',sans-serif;fill:#000"><tspan x="286.20" y="329.50" style="letter-spacing:0.045px;font-size:13.33px">Primal Objective value </tspan><tspan x="440.81" y="329.50" style="font-style:oblique;font-size:13.33px">f</tspan><tspan x="445.45" y="332.00" style="font-style:oblique;font-size:9.33px">θ</tspan><tspan x="452.31" y="329.50" style="font-size:13.33px">(</tspan><tspan x="457.11" y="329.50" style="font-weight:bold;font-size:13.33px">x</tspan><tspan x="465.91" y="329.50" style="font-size:13.33px">)</tspan></text>
<text xml:space="preserve" style="font-family:'DejaVu Sans',sans-serif;fill:#000"><tspan x="286.20" y="351.70" style="letter-spacing:0.045px;font-size:13.33px">Optimal Primal Objective value </tspan><tspan x="497.99" y="351.70" style="font-style:oblique;font-size:13.33px">f</tspan><tspan x="502.63" y="354.20" style="font-style:oblique;font-size:9.33px">θ</tspan><tspan x="509.19" y="351.70" style="font-size:13.33px">(</tspan><tspan x="513.79" y="351.70" style="font-weight:bold;font-size:13.33px">x</tspan><tspan x="523.69" y="346.00" style="font-weight:bold;font-size:6.93px">⋆</tspan><tspan x="528.83" y="351.70" style="font-size:13.33px">)</tspan></text>
<rect x="73.75" y="478.50" width="334.95" height="49.00" rx="2.6" ry="2.6" style="fill:#fff;fill-opacity:0.8;stroke:#ccc;stroke-opacity:0.8;stroke-width:0.925"/>
<path d="M79.08 490.00L105.75 490.00" style="fill:none;stroke:#ff0000;stroke-width:1.39;stroke-linecap:square"/>
<path d="M79.08 512.50L105.75 512.50" style="fill:none;stroke:#9370db;stroke-width:1.39;stroke-linecap:square"/>
<text xml:space="preserve" style="font-family:'DejaVu Sans',sans-serif;fill:#000"><tspan x="116.50" y="495.00" style="letter-spacing:0.045px;font-size:13.33px">Equality Constraint Residual </tspan><tspan x="309.24" y="495.00" style="font-size:13.33px">‖</tspan><tspan x="315.90" y="495.00" style="font-weight:bold;font-size:13.33px">h</tspan><tspan x="325.59" y="497.50" style="font-style:oblique;font-size:9.33px">θ</tspan><tspan x="331.60" y="495.00" style="font-size:13.33px">(</tspan><tspan x="336.20" y="495.00" style="font-weight:bold;font-size:13.33px">x</tspan><tspan x="345.20" y="495.00" style="font-size:13.33px">)</tspan><tspan x="350.70" y="495.00" style="font-size:13.33px">‖</tspan><tspan x="357.57" y="497.50" style="font-size:9.33px">2</tspan></text>
<text xml:space="preserve" style="font-family:'DejaVu Sans',sans-serif;fill:#000"><tspan x="116.50" y="517.20" style="letter-spacing:0.045px;font-size:13.33px">Inequality Constraint Residual </tspan><tspan x="321.40" y="517.20" style="font-size:13.33px">‖</tspan><tspan x="328.06" y="517.20" style="font-size:13.33px"> </tspan><tspan x="332.30" y="517.20" style="font-size:13.33px">[</tspan><tspan x="337.50" y="517.20" style="font-weight:bold;font-size:13.33px">g</tspan><tspan x="347.44" y="519.70" style="font-style:oblique;font-size:9.33px">θ</tspan><tspan x="353.45" y="517.20" style="font-size:13.33px">(</tspan><tspan x="358.05" y="517.20" style="font-weight:bold;font-size:13.33px">x</tspan><tspan x="367.25" y="517.20" style="font-size:13.33px">)</tspan><tspan x="371.35" y="517.20" style="font-size:13.33px">]</tspan><tspan x="378.45" y="519.70" style="font-size:9.33px">+</tspan><tspan x="389.07" y="517.20" style="font-size:13.33px">‖</tspan><tspan x="396.03" y="519.70" style="font-size:9.33px">2</tspan></text>
<rect x="312.50" y="568.60" width="227.00" height="25.80" rx="2.6" ry="2.6" style="fill:#fff;fill-opacity:0.8;stroke:#ccc;stroke-opacity:0.8;stroke-width:0.925"/>
<path d="M317.03 580.00L343.70 580.00" style="fill:none;stroke:#000;stroke-width:1.39;stroke-linecap:square"/>
<text xml:space="preserve" style="font-family:'DejaVu Sans',sans-serif;fill:#000"><tspan x="355.20" y="584.90" style="letter-spacing:0.045px;font-size:13.33px">Solution Residual </tspan><tspan x="474.47" y="584.90" style="font-size:13.33px">‖</tspan><tspan x="480.74" y="584.90" style="font-weight:bold;font-size:13.33px">x</tspan><tspan x="492.23" y="584.90" style="font-size:13.33px">−</tspan><tspan x="506.40" y="584.90" style="font-weight:bold;font-size:13.33px">x</tspan><tspan x="516.30" y="579.20" style="font-weight:bold;font-size:6.93px">⋆</tspan><tspan x="520.44" y="584.90" style="font-size:13.33px">‖</tspan><tspan x="527.40" y="587.40" style="font-size:9.33px">2</tspan></text>
</g>
</svg>

</body></html>
